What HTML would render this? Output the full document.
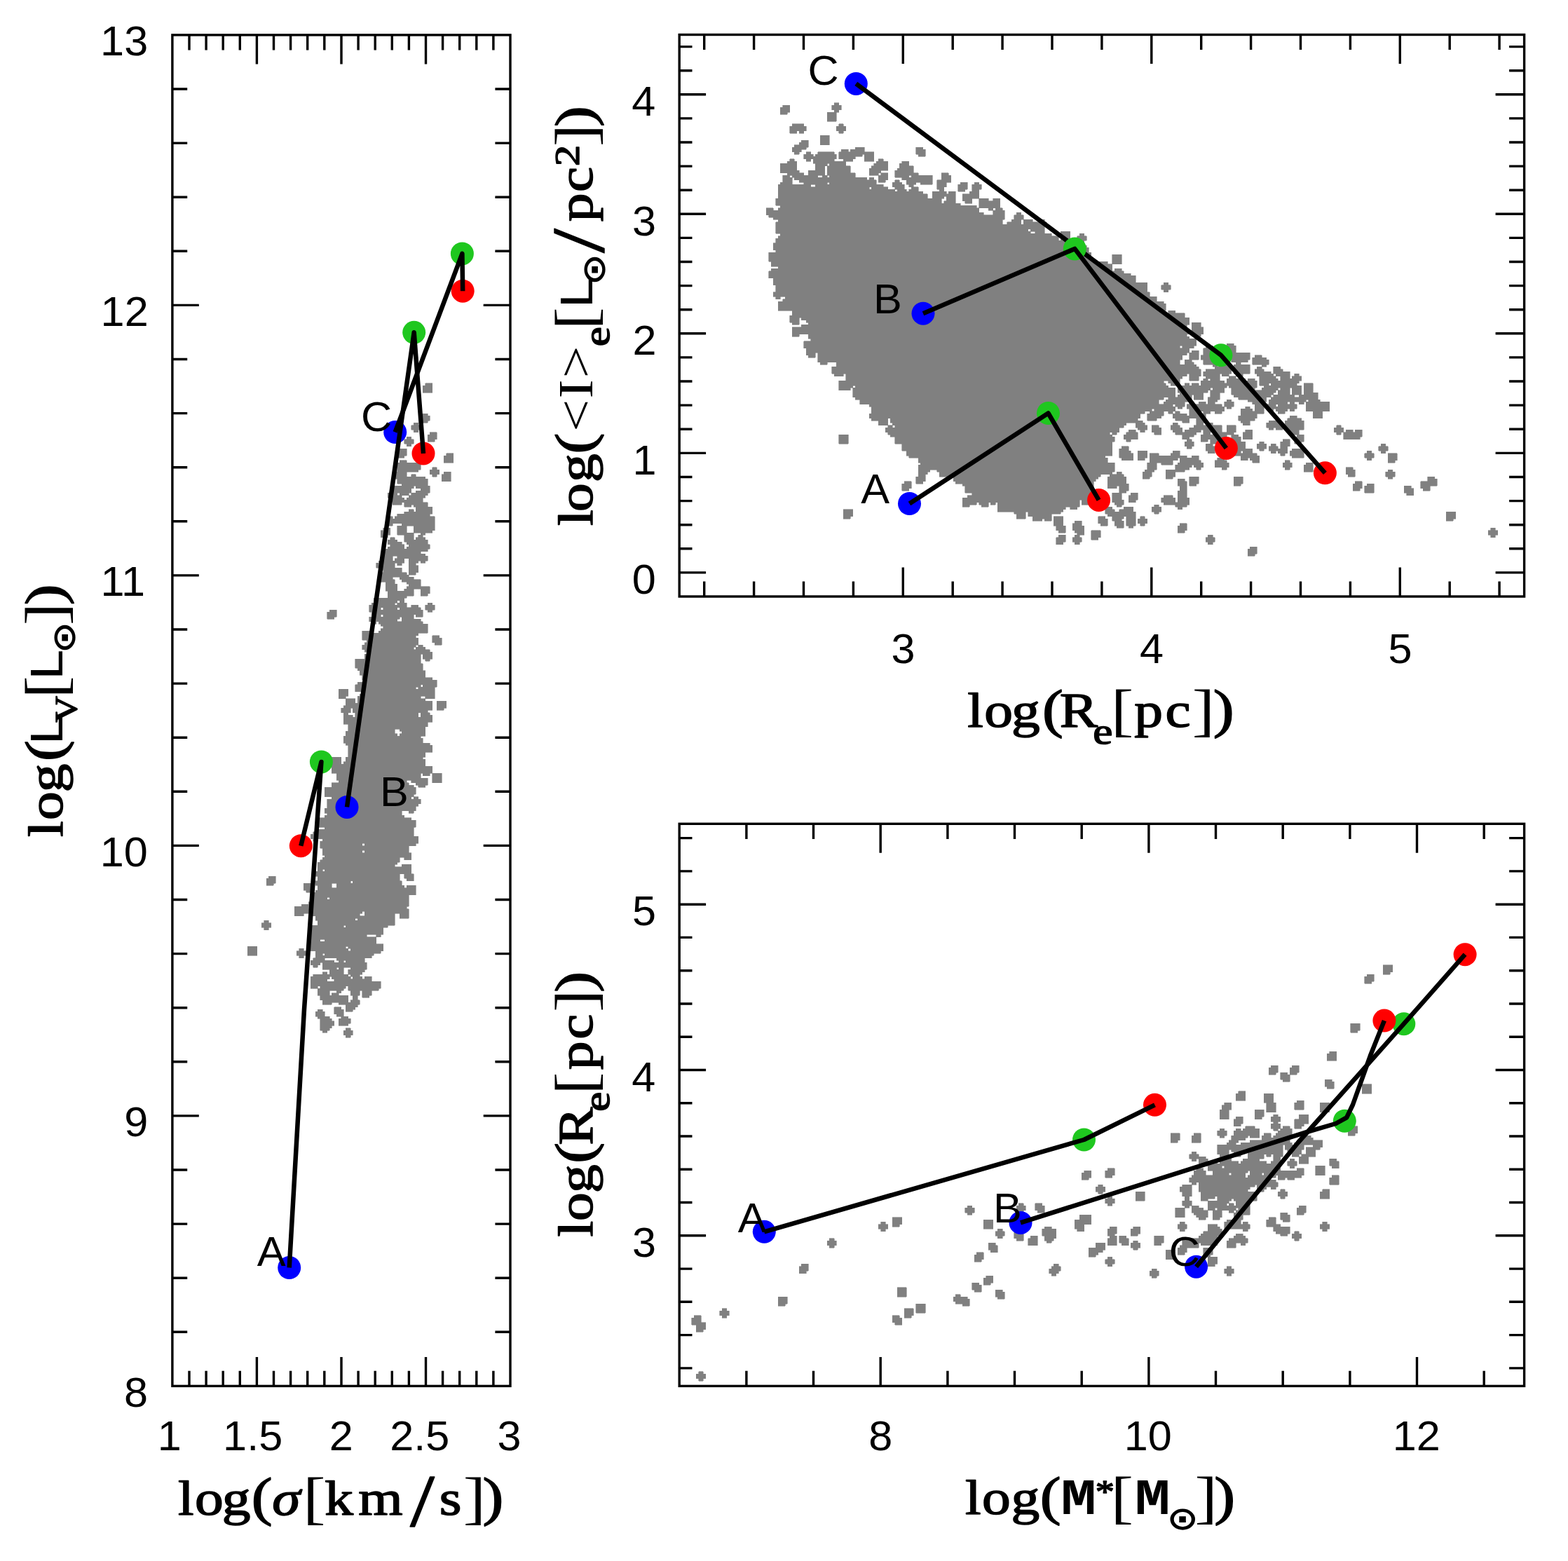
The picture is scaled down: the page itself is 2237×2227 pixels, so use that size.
<!DOCTYPE html>
<html lang="en">
<head>
<meta charset="utf-8">
<title>log(L) vs log(&#963;), log(&lt;I&gt;e) vs log(Re), log(Re) vs log(M*)</title>
<style>
html,body{margin:0;padding:0;background:#fff}
body{width:2237px;height:2227px;overflow:hidden}
svg{display:block}
text{fill:#000}
</style>
</head>
<body>
<svg width="2237" height="2227" viewBox="0 0 2237 2227">
<rect width="2237" height="2227" fill="#fff"/>
<path fill="#808080" stroke="#808080" stroke-width="0.6" shape-rendering="crispEdges" d="M1190.0 146.7h6.7v3.3h-6.7zM1116.7 150.0h10.0v3.3h-10.0zM1186.7 150.0h13.3v6.7h-13.3zM1113.3 153.3h13.3v6.7h-13.3zM1190.0 156.7h6.7v3.3h-6.7zM1113.3 160.0h10.0v3.3h-10.0zM1180.0 160.0h13.3v13.3h-13.3zM1196.7 176.7h6.7v3.3h-6.7zM1130.0 176.7h16.7v3.3h-16.7zM1193.3 180.0h13.3v6.7h-13.3zM1126.7 180.0h23.3v6.7h-23.3zM1126.7 186.7h10.0v3.3h-10.0zM1196.7 186.7h6.7v3.3h-6.7zM1140.0 186.7h6.7v3.3h-6.7zM1143.3 200.0h10.0v3.3h-10.0zM1170.0 193.3h13.3v13.3h-13.3zM1140.0 203.3h13.3v3.3h-13.3zM1133.3 206.7h20.0v3.3h-20.0zM1220.0 210.0h13.3v3.3h-13.3zM1306.7 210.0h10.0v3.3h-10.0zM1130.0 210.0h20.0v3.3h-20.0zM1213.3 213.3h20.0v3.3h-20.0zM1130.0 213.3h13.3v3.3h-13.3zM1200.0 213.3h10.0v3.3h-10.0zM1306.7 213.3h13.3v6.7h-13.3zM1166.7 216.7h23.3v3.3h-23.3zM1150.0 216.7h6.7v3.3h-6.7zM1196.7 216.7h50.0v3.3h-50.0zM1133.3 216.7h6.7v3.3h-6.7zM1310.0 220.0h10.0v3.3h-10.0zM1196.7 220.0h33.3v3.3h-33.3zM1163.3 220.0h30.0v3.3h-30.0zM1146.7 220.0h13.3v3.3h-13.3zM1146.7 223.3h46.7v3.3h-46.7zM1196.7 223.3h23.3v3.3h-23.3zM1233.3 220.0h13.3v10.0h-13.3zM1203.3 226.7h13.3v3.3h-13.3zM1150.0 226.7h6.7v3.3h-6.7zM1160.0 226.7h30.0v3.3h-30.0zM1253.3 226.7h6.7v3.3h-6.7zM1126.7 226.7h6.7v3.3h-6.7zM1250.0 230.0h16.7v3.3h-16.7zM1286.7 230.0h10.0v3.3h-10.0zM1160.0 230.0h46.7v3.3h-46.7zM1123.3 230.0h13.3v3.3h-13.3zM1246.7 233.3h20.0v3.3h-20.0zM1163.3 233.3h16.7v3.3h-16.7zM1283.3 233.3h13.3v3.3h-13.3zM1183.3 233.3h23.3v3.3h-23.3zM1283.3 236.7h20.0v3.3h-20.0zM1243.3 236.7h23.3v3.3h-23.3zM1113.3 233.3h23.3v10.0h-23.3zM1163.3 236.7h13.3v6.7h-13.3zM1280.0 240.0h23.3v3.3h-23.3zM1240.0 240.0h26.7v3.3h-26.7zM1180.0 236.7h33.3v10.0h-33.3zM1276.7 243.3h26.7v3.3h-26.7zM1113.3 243.3h26.7v3.3h-26.7zM1240.0 243.3h16.7v3.3h-16.7zM1153.3 243.3h23.3v6.7h-23.3zM1343.3 246.7h10.0v3.3h-10.0zM1240.0 246.7h13.3v3.3h-13.3zM1256.7 246.7h10.0v3.3h-10.0zM1123.3 246.7h23.3v3.3h-23.3zM1180.0 246.7h40.0v3.3h-40.0zM1276.7 246.7h33.3v3.3h-33.3zM1173.3 250.0h6.7v3.3h-6.7zM1300.0 250.0h30.0v3.3h-30.0zM1183.3 250.0h36.7v3.3h-36.7zM1276.7 250.0h20.0v3.3h-20.0zM1116.7 250.0h10.0v3.3h-10.0zM1130.0 250.0h36.7v3.3h-36.7zM1343.3 250.0h13.3v6.7h-13.3zM1253.3 250.0h13.3v6.7h-13.3zM1286.7 253.3h43.3v3.3h-43.3zM1133.3 253.3h103.3v3.3h-103.3zM1240.0 253.3h6.7v3.3h-6.7zM1116.7 253.3h13.3v6.7h-13.3zM1253.3 256.7h10.0v3.3h-10.0zM1276.7 256.7h6.7v3.3h-6.7zM1336.7 256.7h20.0v3.3h-20.0zM1140.0 256.7h110.0v3.3h-110.0zM1293.3 256.7h36.7v3.3h-36.7zM1293.3 260.0h13.3v3.3h-13.3zM1146.7 260.0h33.3v3.3h-33.3zM1313.3 260.0h16.7v3.3h-16.7zM1273.3 260.0h13.3v3.3h-13.3zM1183.3 260.0h66.7v3.3h-66.7zM1113.3 260.0h16.7v3.3h-16.7zM1370.0 260.0h10.0v3.3h-10.0zM1390.0 260.0h6.7v3.3h-6.7zM1336.7 260.0h13.3v6.7h-13.3zM1273.3 263.3h16.7v3.3h-16.7zM1110.0 263.3h46.7v3.3h-46.7zM1296.7 263.3h6.7v3.3h-6.7zM1163.3 263.3h96.7v3.3h-96.7zM1386.7 263.3h13.3v6.7h-13.3zM1366.7 263.3h13.3v6.7h-13.3zM1300.0 266.7h10.0v3.3h-10.0zM1243.3 266.7h23.3v3.3h-23.3zM1110.0 266.7h130.0v3.3h-130.0zM1336.7 266.7h10.0v3.3h-10.0zM1276.7 266.7h13.3v3.3h-13.3zM1296.7 270.0h13.3v3.3h-13.3zM1366.7 270.0h10.0v3.3h-10.0zM1280.0 270.0h13.3v3.3h-13.3zM1340.0 270.0h6.7v3.3h-6.7zM1386.7 270.0h10.0v3.3h-10.0zM1110.0 270.0h166.7v3.3h-166.7zM1383.3 273.3h13.3v3.3h-13.3zM1330.0 273.3h20.0v3.3h-20.0zM1110.0 273.3h206.7v3.3h-206.7zM1353.3 273.3h10.0v3.3h-10.0zM1330.0 276.7h33.3v3.3h-33.3zM1373.3 276.7h23.3v6.7h-23.3zM1110.0 276.7h213.3v6.7h-213.3zM1330.0 280.0h16.7v3.3h-16.7zM1350.0 280.0h13.3v6.7h-13.3zM1416.7 283.3h10.0v3.3h-10.0zM1396.7 283.3h13.3v3.3h-13.3zM1373.3 283.3h13.3v3.3h-13.3zM1106.7 283.3h236.7v6.7h-236.7zM1346.7 286.7h16.7v3.3h-16.7zM1376.7 286.7h10.0v3.3h-10.0zM1106.7 290.0h263.3v3.3h-263.3zM1396.7 286.7h30.0v10.0h-30.0zM1113.3 293.3h280.0v3.3h-280.0zM1110.0 296.7h286.7v3.3h-286.7zM1410.0 296.7h6.7v3.3h-6.7zM1093.3 296.7h10.0v3.3h-10.0zM1420.0 296.7h10.0v3.3h-10.0zM1093.3 300.0h303.3v3.3h-303.3zM1416.7 300.0h16.7v6.7h-16.7zM1093.3 303.3h310.0v3.3h-310.0zM1450.0 303.3h6.7v3.3h-6.7zM1096.7 306.7h336.7v3.3h-336.7zM1446.7 306.7h13.3v6.7h-13.3zM1103.3 310.0h330.0v3.3h-330.0zM1443.3 313.3h13.3v3.3h-13.3zM1483.3 313.3h6.7v3.3h-6.7zM1460.0 313.3h13.3v3.3h-13.3zM1110.0 313.3h320.0v3.3h-320.0zM1436.7 316.7h20.0v3.3h-20.0zM1106.7 316.7h323.3v3.3h-323.3zM1460.0 316.7h33.3v3.3h-33.3zM1106.7 320.0h386.7v3.3h-386.7zM1106.7 323.3h383.3v3.3h-383.3zM1106.7 326.7h360.0v3.3h-360.0zM1470.0 326.7h20.0v3.3h-20.0zM1106.7 330.0h363.3v3.3h-363.3zM1476.7 330.0h13.3v3.3h-13.3zM1540.0 333.3h6.7v3.3h-6.7zM1113.3 333.3h386.7v3.3h-386.7zM1513.3 330.0h13.3v10.0h-13.3zM1110.0 336.7h400.0v3.3h-400.0zM1536.7 336.7h13.3v6.7h-13.3zM1106.7 340.0h403.3v3.3h-403.3zM1513.3 340.0h16.7v3.3h-16.7zM1540.0 343.3h6.7v3.3h-6.7zM1106.7 343.3h423.3v3.3h-423.3zM1103.3 346.7h426.7v3.3h-426.7zM1103.3 350.0h446.7v3.3h-446.7zM1103.3 353.3h450.0v3.3h-450.0zM1106.7 356.7h446.7v3.3h-446.7zM1096.7 360.0h460.0v13.3h-460.0zM1586.7 363.3h13.3v13.3h-13.3zM1100.0 373.3h480.0v3.3h-480.0zM1100.0 376.7h486.7v3.3h-486.7zM1110.0 380.0h476.7v3.3h-476.7zM1100.0 383.3h486.7v3.3h-486.7zM1590.0 383.3h10.0v3.3h-10.0zM1096.7 386.7h506.7v3.3h-506.7zM1096.7 390.0h516.7v3.3h-516.7zM1096.7 393.3h523.3v3.3h-523.3zM1103.3 396.7h516.7v6.7h-516.7zM1660.0 403.3h6.7v3.3h-6.7zM1103.3 403.3h533.3v3.3h-533.3zM1656.7 406.7h13.3v6.7h-13.3zM1106.7 406.7h530.0v10.0h-530.0zM1660.0 413.3h6.7v3.3h-6.7zM1103.3 416.7h536.7v6.7h-536.7zM1106.7 423.3h6.7v3.3h-6.7zM1120.0 423.3h530.0v3.3h-530.0zM1116.7 426.7h533.3v3.3h-533.3zM1110.0 430.0h550.0v3.3h-550.0zM1110.0 433.3h553.3v10.0h-553.3zM1666.7 443.3h10.0v3.3h-10.0zM1130.0 443.3h526.7v3.3h-526.7zM1130.0 446.7h560.0v3.3h-560.0zM1126.7 450.0h563.3v3.3h-563.3zM1143.3 453.3h553.3v3.3h-553.3zM1126.7 453.3h13.3v6.7h-13.3zM1150.0 456.7h546.7v3.3h-546.7zM1130.0 460.0h10.0v3.3h-10.0zM1153.3 460.0h543.3v3.3h-543.3zM1700.0 460.0h13.3v6.7h-13.3zM1143.3 463.3h550.0v3.3h-550.0zM1130.0 466.7h563.3v3.3h-563.3zM1700.0 466.7h16.7v6.7h-16.7zM1130.0 470.0h566.7v6.7h-566.7zM1703.3 473.3h13.3v3.3h-13.3zM1130.0 476.7h10.0v3.3h-10.0zM1703.3 476.7h10.0v3.3h-10.0zM1153.3 476.7h540.0v3.3h-540.0zM1153.3 480.0h543.3v3.3h-543.3zM1156.7 483.3h550.0v3.3h-550.0zM1146.7 486.7h560.0v6.7h-560.0zM1750.0 490.0h10.0v3.3h-10.0zM1146.7 493.3h536.7v3.3h-536.7zM1720.0 493.3h10.0v3.3h-10.0zM1686.7 493.3h16.7v3.3h-16.7zM1750.0 493.3h13.3v6.7h-13.3zM1740.0 496.7h6.7v3.3h-6.7zM1150.0 496.7h546.7v6.7h-546.7zM1736.7 500.0h26.7v3.3h-26.7zM1700.0 500.0h10.0v3.3h-10.0zM1716.7 496.7h13.3v10.0h-13.3zM1166.7 503.3h526.7v3.3h-526.7zM1736.7 503.3h46.7v3.3h-46.7zM1150.0 503.3h13.3v3.3h-13.3zM1790.0 506.7h10.0v3.3h-10.0zM1740.0 506.7h6.7v3.3h-6.7zM1750.0 506.7h33.3v3.3h-33.3zM1713.3 506.7h16.7v3.3h-16.7zM1153.3 506.7h10.0v3.3h-10.0zM1696.7 503.3h13.3v10.0h-13.3zM1166.7 506.7h520.0v6.7h-520.0zM1756.7 510.0h26.7v3.3h-26.7zM1786.7 510.0h20.0v3.3h-20.0zM1713.3 510.0h23.3v3.3h-23.3zM1166.7 513.3h516.7v3.3h-516.7zM1716.7 513.3h23.3v3.3h-23.3zM1756.7 513.3h23.3v3.3h-23.3zM1743.3 513.3h10.0v3.3h-10.0zM1690.0 513.3h10.0v3.3h-10.0zM1786.7 513.3h23.3v6.7h-23.3zM1170.0 516.7h10.0v3.3h-10.0zM1763.3 516.7h6.7v3.3h-6.7zM1193.3 516.7h490.0v3.3h-490.0zM1690.0 516.7h13.3v3.3h-13.3zM1716.7 516.7h36.7v3.3h-36.7zM1193.3 520.0h513.3v3.3h-513.3zM1730.0 520.0h6.7v3.3h-6.7zM1740.0 520.0h13.3v3.3h-13.3zM1800.0 520.0h6.7v3.3h-6.7zM1186.7 523.3h523.3v3.3h-523.3zM1793.3 523.3h6.7v3.3h-6.7zM1733.3 523.3h23.3v3.3h-23.3zM1816.7 523.3h10.0v3.3h-10.0zM1720.0 526.7h36.7v3.3h-36.7zM1816.7 526.7h13.3v3.3h-13.3zM1790.0 526.7h13.3v3.3h-13.3zM1760.0 520.0h23.3v13.3h-23.3zM1186.7 526.7h526.7v6.7h-526.7zM1790.0 530.0h23.3v3.3h-23.3zM1816.7 530.0h23.3v3.3h-23.3zM1716.7 530.0h40.0v3.3h-40.0zM1763.3 533.3h10.0v3.3h-10.0zM1206.7 533.3h486.7v3.3h-486.7zM1696.7 533.3h16.7v3.3h-16.7zM1846.7 533.3h6.7v3.3h-6.7zM1716.7 533.3h23.3v3.3h-23.3zM1743.3 533.3h10.0v3.3h-10.0zM1820.0 533.3h20.0v3.3h-20.0zM1190.0 533.3h13.3v3.3h-13.3zM1793.3 533.3h23.3v3.3h-23.3zM1796.7 536.7h23.3v3.3h-23.3zM1826.7 536.7h13.3v3.3h-13.3zM1843.3 536.7h13.3v3.3h-13.3zM1753.3 536.7h10.0v3.3h-10.0zM1206.7 536.7h480.0v3.3h-480.0zM1720.0 536.7h20.0v3.3h-20.0zM1696.7 536.7h13.3v6.7h-13.3zM1206.7 540.0h476.7v3.3h-476.7zM1750.0 540.0h26.7v3.3h-26.7zM1780.0 540.0h10.0v3.3h-10.0zM1826.7 540.0h30.0v3.3h-30.0zM1726.7 540.0h13.3v3.3h-13.3zM1796.7 540.0h26.7v3.3h-26.7zM1716.7 540.0h6.7v3.3h-6.7zM1796.7 543.3h56.7v3.3h-56.7zM1713.3 543.3h33.3v3.3h-33.3zM1196.7 543.3h463.3v3.3h-463.3zM1666.7 543.3h16.7v3.3h-16.7zM1750.0 543.3h43.3v3.3h-43.3zM1690.0 546.7h6.7v3.3h-6.7zM1796.7 546.7h13.3v3.3h-13.3zM1713.3 546.7h80.0v3.3h-80.0zM1196.7 546.7h466.7v3.3h-466.7zM606.7 546.7h10.0v3.3h-10.0zM1700.0 546.7h10.0v3.3h-10.0zM1813.3 546.7h36.7v3.3h-36.7zM1670.0 546.7h10.0v3.3h-10.0zM1683.3 550.0h66.7v3.3h-66.7zM1220.0 550.0h446.7v3.3h-446.7zM1803.3 550.0h53.3v3.3h-53.3zM1196.7 550.0h20.0v3.3h-20.0zM1753.3 550.0h40.0v3.3h-40.0zM1680.0 553.3h46.7v3.3h-46.7zM1826.7 553.3h13.3v3.3h-13.3zM1800.0 553.3h23.3v3.3h-23.3zM1730.0 553.3h16.7v3.3h-16.7zM1756.7 553.3h33.3v3.3h-33.3zM1196.7 553.3h16.7v3.3h-16.7zM1860.0 546.7h13.3v13.3h-13.3zM603.3 550.0h13.3v10.0h-13.3zM1680.0 556.7h43.3v3.3h-43.3zM1790.0 556.7h30.0v3.3h-30.0zM1726.7 556.7h20.0v3.3h-20.0zM1843.3 553.3h13.3v10.0h-13.3zM1756.7 556.7h30.0v6.7h-30.0zM1823.3 556.7h16.7v6.7h-16.7zM1683.3 560.0h33.3v3.3h-33.3zM1790.0 560.0h26.7v3.3h-26.7zM1860.0 560.0h20.0v3.3h-20.0zM1216.7 553.3h460.0v13.3h-460.0zM1726.7 560.0h13.3v6.7h-13.3zM1816.7 563.3h30.0v3.3h-30.0zM1760.0 563.3h53.3v3.3h-53.3zM1853.3 563.3h26.7v3.3h-26.7zM1680.0 563.3h20.0v3.3h-20.0zM1703.3 563.3h13.3v6.7h-13.3zM1723.3 566.7h16.7v3.3h-16.7zM1220.0 566.7h440.0v3.3h-440.0zM1766.7 566.7h40.0v3.3h-40.0zM1666.7 566.7h33.3v3.3h-33.3zM1813.3 566.7h66.7v3.3h-66.7zM1750.0 570.0h6.7v3.3h-6.7zM1723.3 570.0h13.3v3.3h-13.3zM1810.0 570.0h53.3v3.3h-53.3zM1866.7 570.0h16.7v3.3h-16.7zM1780.0 570.0h26.7v3.3h-26.7zM1663.3 570.0h33.3v3.3h-33.3zM1226.7 570.0h426.7v6.7h-426.7zM1840.0 573.3h6.7v3.3h-6.7zM1696.7 573.3h6.7v3.3h-6.7zM1786.7 573.3h16.7v3.3h-16.7zM1853.3 573.3h6.7v3.3h-6.7zM1710.0 573.3h10.0v3.3h-10.0zM1723.3 573.3h10.0v3.3h-10.0zM1660.0 573.3h30.0v3.3h-30.0zM1810.0 573.3h26.7v3.3h-26.7zM1746.7 573.3h13.3v6.7h-13.3zM1240.0 576.7h433.3v3.3h-433.3zM1806.7 576.7h13.3v3.3h-13.3zM1823.3 576.7h26.7v3.3h-26.7zM1693.3 576.7h50.0v3.3h-50.0zM1676.7 576.7h13.3v3.3h-13.3zM1243.3 580.0h433.3v3.3h-433.3zM1750.0 580.0h6.7v3.3h-6.7zM1693.3 580.0h53.3v3.3h-53.3zM1806.7 580.0h43.3v3.3h-43.3zM1776.7 580.0h6.7v3.3h-6.7zM1680.0 580.0h6.7v3.3h-6.7zM1863.3 573.3h33.3v13.3h-33.3zM1790.0 576.7h13.3v10.0h-13.3zM1696.7 583.3h50.0v3.3h-50.0zM1840.0 583.3h6.7v3.3h-6.7zM1243.3 583.3h400.0v3.3h-400.0zM1770.0 583.3h16.7v3.3h-16.7zM1810.0 583.3h6.7v3.3h-6.7zM1646.7 583.3h30.0v3.3h-30.0zM1820.0 583.3h16.7v3.3h-16.7zM1823.3 586.7h10.0v3.3h-10.0zM1666.7 586.7h6.7v3.3h-6.7zM1640.0 586.7h20.0v3.3h-20.0zM1243.3 586.7h390.0v3.3h-390.0zM1716.7 586.7h10.0v3.3h-10.0zM1676.7 586.7h6.7v3.3h-6.7zM1733.3 586.7h10.0v3.3h-10.0zM1696.7 586.7h13.3v3.3h-13.3zM1770.0 586.7h33.3v3.3h-33.3zM1673.3 590.0h20.0v3.3h-20.0zM1636.7 590.0h23.3v3.3h-23.3zM603.3 590.0h6.7v3.3h-6.7zM1696.7 590.0h23.3v3.3h-23.3zM1770.0 590.0h23.3v3.3h-23.3zM1873.3 586.7h13.3v10.0h-13.3zM1240.0 590.0h386.7v6.7h-386.7zM1766.7 593.3h26.7v3.3h-26.7zM1636.7 593.3h20.0v3.3h-20.0zM1673.3 593.3h46.7v3.3h-46.7zM1840.0 593.3h10.0v3.3h-10.0zM600.0 593.3h13.3v6.7h-13.3zM1676.7 596.7h20.0v3.3h-20.0zM1766.7 596.7h23.3v3.3h-23.3zM1636.7 596.7h13.3v3.3h-13.3zM1243.3 596.7h23.3v3.3h-23.3zM1836.7 596.7h20.0v3.3h-20.0zM1270.0 596.7h353.3v3.3h-353.3zM1706.7 596.7h13.3v6.7h-13.3zM1270.0 600.0h360.0v3.3h-360.0zM1770.0 600.0h13.3v3.3h-13.3zM603.3 600.0h6.7v3.3h-6.7zM1810.0 600.0h16.7v3.3h-16.7zM1686.7 600.0h10.0v3.3h-10.0zM1253.3 600.0h13.3v6.7h-13.3zM1720.0 603.3h10.0v3.3h-10.0zM1706.7 603.3h10.0v3.3h-10.0zM1273.3 603.3h333.3v3.3h-333.3zM1673.3 603.3h6.7v3.3h-6.7zM590.0 603.3h6.7v3.3h-6.7zM1773.3 603.3h10.0v3.3h-10.0zM1620.0 603.3h13.3v3.3h-13.3zM1833.3 600.0h26.7v10.0h-26.7zM1806.7 603.3h23.3v6.7h-23.3zM1670.0 606.7h13.3v3.3h-13.3zM1266.7 606.7h6.7v3.3h-6.7zM1906.7 606.7h6.7v3.3h-6.7zM1703.3 606.7h40.0v3.3h-40.0zM1276.7 606.7h326.7v3.3h-326.7zM1620.0 606.7h16.7v3.3h-16.7zM1643.3 606.7h10.0v3.3h-10.0zM586.7 606.7h13.3v6.7h-13.3zM1670.0 610.0h16.7v3.3h-16.7zM1623.3 610.0h13.3v3.3h-13.3zM1836.7 610.0h23.3v3.3h-23.3zM1696.7 610.0h46.7v3.3h-46.7zM1820.0 610.0h10.0v3.3h-10.0zM1810.0 610.0h6.7v3.3h-6.7zM1750.0 606.7h13.3v10.0h-13.3zM1903.3 610.0h13.3v6.7h-13.3zM1263.3 610.0h333.3v6.7h-333.3zM1643.3 610.0h13.3v6.7h-13.3zM1610.0 613.3h10.0v3.3h-10.0zM1673.3 613.3h13.3v3.3h-13.3zM1920.0 613.3h10.0v3.3h-10.0zM1690.0 613.3h23.3v3.3h-23.3zM1776.7 613.3h10.0v3.3h-10.0zM590.0 613.3h6.7v3.3h-6.7zM1933.3 613.3h10.0v3.3h-10.0zM1716.7 613.3h26.7v3.3h-26.7zM1626.7 613.3h6.7v3.3h-6.7zM1840.0 613.3h13.3v6.7h-13.3zM1606.7 616.7h16.7v3.3h-16.7zM1730.0 616.7h30.0v3.3h-30.0zM1676.7 616.7h30.0v3.3h-30.0zM1716.7 616.7h10.0v3.3h-10.0zM1586.7 616.7h6.7v3.3h-6.7zM1266.7 616.7h316.7v3.3h-316.7zM1646.7 616.7h10.0v3.3h-10.0zM1906.7 616.7h6.7v3.3h-6.7zM613.3 616.7h10.0v3.3h-10.0zM1916.7 616.7h26.7v6.7h-26.7zM1270.0 620.0h316.7v3.3h-316.7zM1686.7 620.0h16.7v3.3h-16.7zM1756.7 620.0h10.0v3.3h-10.0zM1850.0 620.0h10.0v3.3h-10.0zM1773.3 616.7h13.3v10.0h-13.3zM1603.3 620.0h20.0v6.7h-20.0zM610.0 620.0h13.3v6.7h-13.3zM1713.3 620.0h36.7v6.7h-36.7zM1916.7 623.3h23.3v3.3h-23.3zM580.0 623.3h6.7v3.3h-6.7zM1686.7 623.3h10.0v3.3h-10.0zM1756.7 623.3h13.3v6.7h-13.3zM1276.7 623.3h313.3v6.7h-313.3zM1846.7 623.3h13.3v6.7h-13.3zM1606.7 626.7h6.7v3.3h-6.7zM1713.3 626.7h10.0v3.3h-10.0zM610.0 626.7h10.0v3.3h-10.0zM1830.0 626.7h10.0v3.3h-10.0zM1693.3 626.7h6.7v3.3h-6.7zM1726.7 626.7h20.0v3.3h-20.0zM1196.7 620.0h13.3v13.3h-13.3zM576.7 626.7h13.3v6.7h-13.3zM1276.7 630.0h310.0v3.3h-310.0zM1760.0 630.0h16.7v3.3h-16.7zM1726.7 630.0h13.3v3.3h-13.3zM1796.7 630.0h6.7v3.3h-6.7zM1846.7 630.0h10.0v3.3h-10.0zM1690.0 630.0h13.3v6.7h-13.3zM1826.7 630.0h13.3v6.7h-13.3zM1720.0 633.3h10.0v3.3h-10.0zM1970.0 633.3h6.7v3.3h-6.7zM1813.3 633.3h6.7v3.3h-6.7zM1763.3 633.3h13.3v3.3h-13.3zM580.0 633.3h6.7v3.3h-6.7zM1793.3 633.3h13.3v6.7h-13.3zM1810.0 636.7h13.3v3.3h-13.3zM1826.7 636.7h10.0v3.3h-10.0zM1600.0 636.7h10.0v3.3h-10.0zM1743.3 636.7h33.3v3.3h-33.3zM1693.3 636.7h6.7v3.3h-6.7zM1286.7 633.3h300.0v10.0h-300.0zM1720.0 636.7h13.3v6.7h-13.3zM1966.7 636.7h13.3v6.7h-13.3zM1596.7 640.0h13.3v3.3h-13.3zM570.0 640.0h10.0v3.3h-10.0zM1743.3 640.0h43.3v3.3h-43.3zM1796.7 640.0h6.7v3.3h-6.7zM1843.3 640.0h16.7v3.3h-16.7zM1810.0 640.0h26.7v3.3h-26.7zM1743.3 643.3h26.7v3.3h-26.7zM1970.0 643.3h6.7v3.3h-6.7zM1673.3 643.3h10.0v3.3h-10.0zM1950.0 643.3h6.7v3.3h-6.7zM1773.3 643.3h13.3v3.3h-13.3zM1813.3 643.3h6.7v3.3h-6.7zM1723.3 643.3h10.0v3.3h-10.0zM1823.3 643.3h13.3v3.3h-13.3zM1596.7 643.3h16.7v3.3h-16.7zM566.7 643.3h13.3v6.7h-13.3zM1293.3 643.3h293.3v6.7h-293.3zM1840.0 643.3h20.0v6.7h-20.0zM1670.0 646.7h13.3v3.3h-13.3zM1743.3 646.7h13.3v3.3h-13.3zM1826.7 646.7h6.7v3.3h-6.7zM1640.0 646.7h13.3v3.3h-13.3zM636.7 646.7h10.0v3.3h-10.0zM1760.0 646.7h33.3v3.3h-33.3zM1623.3 643.3h13.3v10.0h-13.3zM1946.7 646.7h13.3v6.7h-13.3zM1596.7 646.7h20.0v6.7h-20.0zM1296.7 650.0h280.0v3.3h-280.0zM1640.0 650.0h53.3v3.3h-53.3zM566.7 650.0h10.0v3.3h-10.0zM1770.0 650.0h26.7v3.3h-26.7zM1700.0 650.0h10.0v3.3h-10.0zM1843.3 650.0h16.7v3.3h-16.7zM1980.0 646.7h13.3v10.0h-13.3zM1770.0 653.3h10.0v3.3h-10.0zM1600.0 653.3h16.7v3.3h-16.7zM1736.7 653.3h10.0v3.3h-10.0zM1640.0 653.3h40.0v3.3h-40.0zM1783.3 653.3h13.3v3.3h-13.3zM1950.0 653.3h6.7v3.3h-6.7zM1683.3 653.3h26.7v3.3h-26.7zM1623.3 653.3h10.0v3.3h-10.0zM633.3 650.0h13.3v10.0h-13.3zM1310.0 653.3h270.0v6.7h-270.0zM1640.0 656.7h33.3v3.3h-33.3zM570.0 656.7h10.0v3.3h-10.0zM1683.3 656.7h30.0v3.3h-30.0zM1833.3 656.7h6.7v3.3h-6.7zM1980.0 656.7h10.0v3.3h-10.0zM1733.3 656.7h16.7v3.3h-16.7zM1786.7 656.7h10.0v3.3h-10.0zM1680.0 660.0h36.7v3.3h-36.7zM1656.7 660.0h16.7v3.3h-16.7zM1313.3 660.0h276.7v3.3h-276.7zM1863.3 660.0h10.0v3.3h-10.0zM1830.0 660.0h13.3v6.7h-13.3zM1733.3 660.0h20.0v6.7h-20.0zM1703.3 663.3h13.3v3.3h-13.3zM1676.7 663.3h23.3v3.3h-23.3zM566.7 660.0h33.3v10.0h-33.3zM1636.7 660.0h13.3v10.0h-13.3zM1310.0 663.3h280.0v6.7h-280.0zM1676.7 666.7h20.0v3.3h-20.0zM1743.3 666.7h6.7v3.3h-6.7zM1920.0 666.7h10.0v3.3h-10.0zM616.7 666.7h6.7v3.3h-6.7zM1706.7 666.7h6.7v3.3h-6.7zM1833.3 666.7h6.7v3.3h-6.7zM1860.0 663.3h13.3v10.0h-13.3zM1310.0 670.0h16.7v3.3h-16.7zM1663.3 670.0h26.7v3.3h-26.7zM566.7 670.0h30.0v3.3h-30.0zM1633.3 670.0h13.3v3.3h-13.3zM1336.7 670.0h253.3v3.3h-253.3zM1980.0 670.0h6.7v3.3h-6.7zM613.3 670.0h13.3v6.7h-13.3zM1920.0 670.0h13.3v6.7h-13.3zM1593.3 673.3h6.7v3.3h-6.7zM1340.0 673.3h246.7v3.3h-246.7zM633.3 673.3h10.0v3.3h-10.0zM1310.0 673.3h13.3v3.3h-13.3zM563.3 673.3h16.7v6.7h-16.7zM1976.7 673.3h13.3v6.7h-13.3zM1663.3 673.3h13.3v6.7h-13.3zM1630.0 673.3h13.3v6.7h-13.3zM1310.0 676.7h10.0v3.3h-10.0zM616.7 676.7h6.7v3.3h-6.7zM1583.3 676.7h20.0v3.3h-20.0zM1923.3 676.7h10.0v3.3h-10.0zM1340.0 676.7h16.7v3.3h-16.7zM586.7 676.7h6.7v3.3h-6.7zM1360.0 676.7h210.0v3.3h-210.0zM563.3 680.0h43.3v3.3h-43.3zM1360.0 680.0h206.7v3.3h-206.7zM1630.0 680.0h10.0v3.3h-10.0zM2036.7 680.0h10.0v3.3h-10.0zM1980.0 680.0h6.7v3.3h-6.7zM1663.3 680.0h10.0v3.3h-10.0zM630.0 676.7h13.3v10.0h-13.3zM1306.7 680.0h13.3v6.7h-13.3zM2036.7 683.3h13.3v3.3h-13.3zM1680.0 683.3h10.0v3.3h-10.0zM1360.0 683.3h203.3v3.3h-203.3zM1580.0 680.0h26.7v10.0h-26.7zM1696.7 680.0h13.3v10.0h-13.3zM1760.0 680.0h13.3v10.0h-13.3zM566.7 683.3h43.3v6.7h-43.3zM1290.0 686.7h10.0v3.3h-10.0zM1363.3 686.7h196.7v3.3h-196.7zM1306.7 686.7h10.0v3.3h-10.0zM1933.3 686.7h10.0v3.3h-10.0zM1680.0 686.7h13.3v6.7h-13.3zM2026.7 686.7h23.3v6.7h-23.3zM1580.0 690.0h30.0v3.3h-30.0zM1760.0 690.0h10.0v3.3h-10.0zM1950.0 690.0h10.0v3.3h-10.0zM573.3 690.0h36.7v3.3h-36.7zM1373.3 690.0h186.7v3.3h-186.7zM1696.7 690.0h10.0v3.3h-10.0zM1286.7 690.0h13.3v6.7h-13.3zM1930.0 690.0h13.3v6.7h-13.3zM2003.3 693.3h10.0v3.3h-10.0zM593.3 693.3h20.0v3.3h-20.0zM560.0 693.3h30.0v3.3h-30.0zM1580.0 693.3h13.3v3.3h-13.3zM2026.7 693.3h13.3v3.3h-13.3zM1596.7 693.3h13.3v6.7h-13.3zM1683.3 693.3h10.0v6.7h-10.0zM1376.7 693.3h183.3v6.7h-183.3zM2030.0 696.7h10.0v3.3h-10.0zM1286.7 696.7h10.0v3.3h-10.0zM1930.0 696.7h10.0v3.3h-10.0zM600.0 696.7h13.3v3.3h-13.3zM1946.7 693.3h13.3v10.0h-13.3zM556.7 696.7h30.0v6.7h-30.0zM2003.3 696.7h13.3v6.7h-13.3zM593.3 700.0h20.0v3.3h-20.0zM1596.7 700.0h10.0v3.3h-10.0zM1376.7 700.0h186.7v3.3h-186.7zM2006.7 703.3h10.0v3.3h-10.0zM586.7 703.3h23.3v3.3h-23.3zM1386.7 703.3h176.7v3.3h-176.7zM553.3 703.3h13.3v3.3h-13.3zM1613.3 703.3h10.0v3.3h-10.0zM570.0 703.3h13.3v3.3h-13.3zM1680.0 700.0h13.3v10.0h-13.3zM1380.0 706.7h183.3v3.3h-183.3zM1660.0 706.7h13.3v3.3h-13.3zM553.3 706.7h20.0v3.3h-20.0zM583.3 706.7h23.3v3.3h-23.3zM1586.7 703.3h13.3v10.0h-13.3zM1610.0 706.7h13.3v6.7h-13.3zM580.0 710.0h23.3v3.3h-23.3zM1373.3 710.0h190.0v3.3h-190.0zM556.7 710.0h20.0v3.3h-20.0zM1656.7 710.0h20.0v6.7h-20.0zM1680.0 710.0h16.7v6.7h-16.7zM1610.0 713.3h10.0v3.3h-10.0zM560.0 713.3h43.3v3.3h-43.3zM1586.7 713.3h16.7v3.3h-16.7zM1373.3 713.3h166.7v3.3h-166.7zM1543.3 713.3h13.3v6.7h-13.3zM560.0 716.7h13.3v3.3h-13.3zM1660.0 716.7h36.7v3.3h-36.7zM1373.3 716.7h20.0v3.3h-20.0zM576.7 716.7h33.3v3.3h-33.3zM1396.7 716.7h13.3v3.3h-13.3zM1413.3 716.7h6.7v3.3h-6.7zM1590.0 716.7h13.3v3.3h-13.3zM1423.3 716.7h116.7v6.7h-116.7zM1593.3 720.0h6.7v3.3h-6.7zM1373.3 720.0h10.0v3.3h-10.0zM590.0 720.0h20.0v3.3h-20.0zM1676.7 720.0h16.7v3.3h-16.7zM576.7 720.0h10.0v3.3h-10.0zM1400.0 720.0h10.0v3.3h-10.0zM1646.7 720.0h6.7v3.3h-6.7zM1526.7 723.3h10.0v3.3h-10.0zM1576.7 723.3h10.0v3.3h-10.0zM1603.3 723.3h13.3v3.3h-13.3zM1423.3 723.3h96.7v3.3h-96.7zM1680.0 723.3h6.7v3.3h-6.7zM1643.3 723.3h13.3v6.7h-13.3zM593.3 723.3h23.3v6.7h-23.3zM583.3 726.7h6.7v3.3h-6.7zM1596.7 726.7h20.0v3.3h-20.0zM1576.7 726.7h13.3v3.3h-13.3zM1423.3 726.7h93.3v3.3h-93.3zM1576.7 730.0h43.3v3.3h-43.3zM1466.7 730.0h46.7v3.3h-46.7zM1446.7 730.0h16.7v3.3h-16.7zM576.7 730.0h40.0v3.3h-40.0zM1646.7 730.0h6.7v3.3h-6.7zM1203.3 726.7h13.3v10.0h-13.3zM566.7 733.3h46.7v3.3h-46.7zM1580.0 733.3h40.0v3.3h-40.0zM1466.7 733.3h33.3v3.3h-33.3zM2063.3 730.0h13.3v10.0h-13.3zM1450.0 733.3h13.3v6.7h-13.3zM1473.3 736.7h26.7v3.3h-26.7zM553.3 736.7h6.7v3.3h-6.7zM1626.7 736.7h6.7v3.3h-6.7zM1203.3 736.7h10.0v3.3h-10.0zM1586.7 736.7h16.7v3.3h-16.7zM1566.7 736.7h10.0v3.3h-10.0zM563.3 736.7h56.7v3.3h-56.7zM2063.3 740.0h10.0v3.3h-10.0zM1490.0 740.0h10.0v3.3h-10.0zM1473.3 740.0h13.3v3.3h-13.3zM1586.7 740.0h13.3v3.3h-13.3zM1566.7 740.0h13.3v6.7h-13.3zM1623.3 740.0h13.3v6.7h-13.3zM550.0 740.0h70.0v6.7h-70.0zM1533.3 743.3h10.0v3.3h-10.0zM1606.7 736.7h13.3v13.3h-13.3zM1503.3 736.7h13.3v13.3h-13.3zM1590.0 743.3h13.3v6.7h-13.3zM1530.0 746.7h13.3v3.3h-13.3zM553.3 746.7h6.7v3.3h-6.7zM1683.3 746.7h10.0v3.3h-10.0zM573.3 746.7h46.7v3.3h-46.7zM1570.0 746.7h10.0v3.3h-10.0zM1626.7 746.7h6.7v3.3h-6.7zM1610.0 750.0h6.7v3.3h-6.7zM1593.3 750.0h10.0v3.3h-10.0zM1680.0 750.0h13.3v6.7h-13.3zM590.0 750.0h30.0v6.7h-30.0zM1506.7 750.0h13.3v6.7h-13.3zM1530.0 750.0h16.7v6.7h-16.7zM2126.7 753.3h6.7v3.3h-6.7zM546.7 753.3h10.0v3.3h-10.0zM566.7 750.0h13.3v10.0h-13.3zM1680.0 756.7h10.0v3.3h-10.0zM1510.0 756.7h10.0v3.3h-10.0zM590.0 756.7h26.7v3.3h-26.7zM1533.3 756.7h13.3v3.3h-13.3zM543.3 756.7h13.3v6.7h-13.3zM2123.3 756.7h13.3v6.7h-13.3zM1536.7 760.0h10.0v3.3h-10.0zM566.7 760.0h23.3v3.3h-23.3zM600.0 760.0h6.7v3.3h-6.7zM1556.7 756.7h13.3v10.0h-13.3zM2126.7 763.3h6.7v3.3h-6.7zM1723.3 763.3h6.7v3.3h-6.7zM1533.3 763.3h6.7v3.3h-6.7zM543.3 763.3h10.0v3.3h-10.0zM1510.0 763.3h10.0v3.3h-10.0zM596.7 763.3h6.7v3.3h-6.7zM576.7 763.3h13.3v6.7h-13.3zM1556.7 766.7h10.0v3.3h-10.0zM556.7 766.7h6.7v3.3h-6.7zM593.3 766.7h13.3v3.3h-13.3zM1530.0 766.7h13.3v6.7h-13.3zM1506.7 766.7h13.3v6.7h-13.3zM1720.0 766.7h13.3v6.7h-13.3zM576.7 770.0h33.3v3.3h-33.3zM553.3 770.0h13.3v3.3h-13.3zM1723.3 773.3h6.7v3.3h-6.7zM580.0 773.3h30.0v3.3h-30.0zM1533.3 773.3h6.7v3.3h-6.7zM1506.7 773.3h10.0v3.3h-10.0zM553.3 773.3h20.0v3.3h-20.0zM583.3 776.7h30.0v3.3h-30.0zM556.7 776.7h20.0v3.3h-20.0zM580.0 780.0h33.3v3.3h-33.3zM1783.3 780.0h10.0v3.3h-10.0zM553.3 780.0h23.3v3.3h-23.3zM550.0 783.3h60.0v3.3h-60.0zM1780.0 783.3h13.3v6.7h-13.3zM546.7 786.7h53.3v3.3h-53.3zM1780.0 790.0h10.0v3.3h-10.0zM546.7 790.0h60.0v3.3h-60.0zM566.7 793.3h43.3v3.3h-43.3zM543.3 793.3h16.7v6.7h-16.7zM563.3 796.7h13.3v3.3h-13.3zM583.3 796.7h26.7v3.3h-26.7zM583.3 800.0h13.3v3.3h-13.3zM540.0 800.0h36.7v3.3h-36.7zM600.0 800.0h6.7v3.3h-6.7zM566.7 803.3h6.7v3.3h-6.7zM583.3 803.3h10.0v3.3h-10.0zM536.7 803.3h26.7v6.7h-26.7zM540.0 810.0h33.3v3.3h-33.3zM583.3 806.7h13.3v10.0h-13.3zM546.7 813.3h26.7v3.3h-26.7zM583.3 816.7h10.0v3.3h-10.0zM543.3 816.7h36.7v3.3h-36.7zM540.0 820.0h43.3v3.3h-43.3zM540.0 823.3h20.0v3.3h-20.0zM570.0 823.3h20.0v3.3h-20.0zM543.3 826.7h20.0v3.3h-20.0zM573.3 826.7h26.7v3.3h-26.7zM550.0 830.0h13.3v3.3h-13.3zM580.0 830.0h20.0v3.3h-20.0zM583.3 833.3h16.7v3.3h-16.7zM580.0 836.7h33.3v3.3h-33.3zM550.0 833.3h16.7v10.0h-16.7zM576.7 840.0h13.3v3.3h-13.3zM600.0 840.0h13.3v6.7h-13.3zM553.3 843.3h36.7v6.7h-36.7zM600.0 846.7h10.0v3.3h-10.0zM553.3 850.0h26.7v3.3h-26.7zM533.3 853.3h43.3v3.3h-43.3zM570.0 856.7h6.7v3.3h-6.7zM533.3 856.7h33.3v3.3h-33.3zM610.0 860.0h6.7v3.3h-6.7zM566.7 860.0h13.3v3.3h-13.3zM530.0 860.0h33.3v3.3h-33.3zM526.7 863.3h53.3v3.3h-53.3zM586.7 863.3h10.0v3.3h-10.0zM606.7 863.3h13.3v6.7h-13.3zM526.7 866.7h16.7v3.3h-16.7zM546.7 866.7h20.0v3.3h-20.0zM570.0 866.7h30.0v3.3h-30.0zM610.0 870.0h6.7v3.3h-6.7zM470.0 870.0h10.0v3.3h-10.0zM526.7 870.0h76.7v3.3h-76.7zM530.0 873.3h73.3v3.3h-73.3zM466.7 873.3h13.3v6.7h-13.3zM530.0 876.7h13.3v3.3h-13.3zM546.7 876.7h43.3v3.3h-43.3zM593.3 876.7h10.0v3.3h-10.0zM573.3 880.0h16.7v3.3h-16.7zM526.7 880.0h43.3v3.3h-43.3zM466.7 880.0h10.0v3.3h-10.0zM573.3 883.3h26.7v3.3h-26.7zM526.7 883.3h40.0v3.3h-40.0zM530.0 886.7h6.7v3.3h-6.7zM540.0 886.7h63.3v3.3h-63.3zM543.3 890.0h66.7v3.3h-66.7zM546.7 893.3h63.3v3.3h-63.3zM543.3 896.7h66.7v3.3h-66.7zM540.0 900.0h70.0v3.3h-70.0zM516.7 900.0h13.3v3.3h-13.3zM516.7 903.3h80.0v3.3h-80.0zM616.7 906.7h10.0v3.3h-10.0zM516.7 906.7h76.7v3.3h-76.7zM516.7 910.0h80.0v3.3h-80.0zM616.7 910.0h13.3v6.7h-13.3zM523.3 913.3h73.3v3.3h-73.3zM520.0 916.7h76.7v3.3h-76.7zM620.0 916.7h10.0v3.3h-10.0zM596.7 920.0h6.7v3.3h-6.7zM516.7 920.0h76.7v3.3h-76.7zM516.7 923.3h73.3v3.3h-73.3zM593.3 923.3h13.3v3.3h-13.3zM520.0 926.7h93.3v3.3h-93.3zM526.7 930.0h90.0v3.3h-90.0zM520.0 933.3h80.0v6.7h-80.0zM603.3 933.3h13.3v6.7h-13.3zM606.7 940.0h6.7v3.3h-6.7zM506.7 940.0h93.3v6.7h-93.3zM506.7 946.7h96.7v6.7h-96.7zM510.0 953.3h93.3v3.3h-93.3zM513.3 956.7h93.3v6.7h-93.3zM516.7 963.3h90.0v3.3h-90.0zM516.7 966.7h100.0v3.3h-100.0zM520.0 970.0h103.3v3.3h-103.3zM510.0 973.3h113.3v3.3h-113.3zM603.3 976.7h20.0v3.3h-20.0zM506.7 976.7h93.3v3.3h-93.3zM506.7 980.0h86.7v3.3h-86.7zM596.7 980.0h23.3v3.3h-23.3zM506.7 983.3h113.3v3.3h-113.3zM516.7 986.7h103.3v3.3h-103.3zM483.3 983.3h13.3v10.0h-13.3zM513.3 990.0h106.7v3.3h-106.7zM510.0 993.3h90.0v3.3h-90.0zM483.3 993.3h10.0v3.3h-10.0zM606.7 993.3h13.3v3.3h-13.3zM510.0 996.7h96.7v3.3h-96.7zM493.3 996.7h13.3v6.7h-13.3zM510.0 1000.0h106.7v3.3h-106.7zM493.3 1003.3h123.3v3.3h-123.3zM623.3 1000.0h13.3v10.0h-13.3zM490.0 1006.7h126.7v3.3h-126.7zM503.3 1010.0h113.3v3.3h-113.3zM623.3 1010.0h10.0v3.3h-10.0zM486.7 1010.0h13.3v6.7h-13.3zM503.3 1013.3h106.7v3.3h-106.7zM490.0 1016.7h6.7v3.3h-6.7zM600.0 1016.7h13.3v3.3h-13.3zM506.7 1016.7h90.0v6.7h-90.0zM600.0 1020.0h16.7v3.3h-16.7zM490.0 1020.0h13.3v3.3h-13.3zM490.0 1023.3h126.7v6.7h-126.7zM490.0 1030.0h120.0v3.3h-120.0zM496.7 1033.3h113.3v3.3h-113.3zM496.7 1036.7h110.0v3.3h-110.0zM570.0 1040.0h36.7v3.3h-36.7zM496.7 1040.0h66.7v3.3h-66.7zM493.3 1043.3h70.0v3.3h-70.0zM573.3 1043.3h33.3v3.3h-33.3zM570.0 1046.7h36.7v3.3h-36.7zM493.3 1046.7h73.3v3.3h-73.3zM490.0 1050.0h110.0v3.3h-110.0zM490.0 1053.3h113.3v6.7h-113.3zM493.3 1060.0h120.0v3.3h-120.0zM496.7 1063.3h120.0v10.0h-120.0zM496.7 1073.3h110.0v6.7h-110.0zM493.3 1080.0h110.0v3.3h-110.0zM493.3 1083.3h113.3v3.3h-113.3zM473.3 1080.0h13.3v10.0h-13.3zM490.0 1086.7h116.7v3.3h-116.7zM473.3 1090.0h133.3v3.3h-133.3zM473.3 1093.3h143.3v10.0h-143.3zM603.3 1103.3h10.0v3.3h-10.0zM480.0 1103.3h120.0v6.7h-120.0zM480.0 1110.0h130.0v3.3h-130.0zM616.7 1103.3h13.3v13.3h-13.3zM483.3 1113.3h96.7v3.3h-96.7zM586.7 1113.3h23.3v3.3h-23.3zM473.3 1116.7h110.0v3.3h-110.0zM593.3 1116.7h16.7v3.3h-16.7zM596.7 1120.0h10.0v3.3h-10.0zM473.3 1120.0h116.7v3.3h-116.7zM463.3 1123.3h130.0v10.0h-130.0zM463.3 1133.3h126.7v3.3h-126.7zM473.3 1136.7h113.3v3.3h-113.3zM590.0 1136.7h6.7v3.3h-6.7zM466.7 1140.0h133.3v6.7h-133.3zM466.7 1146.7h130.0v3.3h-130.0zM466.7 1150.0h126.7v3.3h-126.7zM463.3 1153.3h130.0v3.3h-130.0zM463.3 1156.7h110.0v3.3h-110.0zM583.3 1156.7h6.7v3.3h-6.7zM466.7 1160.0h106.7v3.3h-106.7zM463.3 1163.3h113.3v3.3h-113.3zM453.3 1166.7h133.3v3.3h-133.3zM453.3 1170.0h140.0v10.0h-140.0zM463.3 1180.0h126.7v3.3h-126.7zM453.3 1183.3h136.7v3.3h-136.7zM446.7 1186.7h143.3v3.3h-143.3zM443.3 1190.0h146.7v3.3h-146.7zM443.3 1193.3h153.3v3.3h-153.3zM460.0 1196.7h136.7v3.3h-136.7zM446.7 1196.7h6.7v3.3h-6.7zM456.7 1200.0h140.0v3.3h-140.0zM520.0 1203.3h73.3v3.3h-73.3zM456.7 1203.3h60.0v3.3h-60.0zM456.7 1206.7h126.7v3.3h-126.7zM460.0 1210.0h123.3v3.3h-123.3zM520.0 1213.3h63.3v3.3h-63.3zM460.0 1213.3h56.7v3.3h-56.7zM460.0 1216.7h126.7v3.3h-126.7zM463.3 1220.0h123.3v3.3h-123.3zM460.0 1223.3h110.0v3.3h-110.0zM576.7 1223.3h10.0v3.3h-10.0zM456.7 1226.7h113.3v3.3h-113.3zM453.3 1230.0h113.3v3.3h-113.3zM573.3 1233.3h13.3v3.3h-13.3zM453.3 1233.3h110.0v3.3h-110.0zM453.3 1236.7h133.3v3.3h-133.3zM463.3 1240.0h123.3v3.3h-123.3zM453.3 1240.0h6.7v3.3h-6.7zM450.0 1243.3h136.7v3.3h-136.7zM450.0 1246.7h120.0v3.3h-120.0zM576.7 1246.7h13.3v6.7h-13.3zM383.3 1250.0h10.0v3.3h-10.0zM453.3 1250.0h116.7v6.7h-116.7zM580.0 1253.3h10.0v3.3h-10.0zM380.0 1253.3h13.3v6.7h-13.3zM450.0 1256.7h50.0v3.3h-50.0zM503.3 1256.7h70.0v3.3h-70.0zM433.3 1260.0h10.0v3.3h-10.0zM380.0 1260.0h10.0v3.3h-10.0zM450.0 1260.0h23.3v3.3h-23.3zM480.0 1260.0h93.3v3.3h-93.3zM453.3 1263.3h20.0v3.3h-20.0zM480.0 1263.3h96.7v3.3h-96.7zM580.0 1263.3h13.3v3.3h-13.3zM433.3 1263.3h13.3v6.7h-13.3zM453.3 1266.7h140.0v3.3h-140.0zM450.0 1270.0h143.3v3.3h-143.3zM436.7 1270.0h10.0v3.3h-10.0zM446.7 1273.3h146.7v3.3h-146.7zM443.3 1276.7h140.0v3.3h-140.0zM443.3 1280.0h23.3v3.3h-23.3zM470.0 1280.0h113.3v3.3h-113.3zM446.7 1283.3h136.7v3.3h-136.7zM440.0 1286.7h143.3v3.3h-143.3zM430.0 1290.0h153.3v3.3h-153.3zM420.0 1293.3h160.0v3.3h-160.0zM420.0 1296.7h163.3v3.3h-163.3zM520.0 1300.0h63.3v3.3h-63.3zM443.3 1300.0h73.3v3.3h-73.3zM420.0 1300.0h20.0v3.3h-20.0zM420.0 1303.3h13.3v3.3h-13.3zM520.0 1303.3h43.3v3.3h-43.3zM443.3 1303.3h70.0v3.3h-70.0zM570.0 1303.3h13.3v6.7h-13.3zM450.0 1306.7h113.3v3.3h-113.3zM510.0 1310.0h53.3v3.3h-53.3zM450.0 1310.0h56.7v3.3h-56.7zM376.7 1313.3h6.7v3.3h-6.7zM453.3 1313.3h110.0v6.7h-110.0zM373.3 1316.7h13.3v6.7h-13.3zM440.0 1320.0h50.0v3.3h-50.0zM493.3 1320.0h60.0v3.3h-60.0zM376.7 1323.3h6.7v3.3h-6.7zM440.0 1323.3h106.7v10.0h-106.7zM536.7 1333.3h6.7v3.3h-6.7zM440.0 1333.3h83.3v3.3h-83.3zM440.0 1336.7h96.7v3.3h-96.7zM443.3 1340.0h13.3v3.3h-13.3zM463.3 1340.0h73.3v3.3h-73.3zM443.3 1343.3h93.3v3.3h-93.3zM440.0 1346.7h106.7v3.3h-106.7zM440.0 1350.0h53.3v3.3h-53.3zM496.7 1350.0h50.0v3.3h-50.0zM426.7 1353.3h6.7v3.3h-6.7zM443.3 1353.3h53.3v3.3h-53.3zM500.0 1353.3h46.7v3.3h-46.7zM450.0 1356.7h93.3v3.3h-93.3zM353.3 1350.0h13.3v13.3h-13.3zM423.3 1356.7h13.3v6.7h-13.3zM450.0 1360.0h10.0v3.3h-10.0zM463.3 1360.0h70.0v3.3h-70.0zM426.7 1363.3h6.7v3.3h-6.7zM450.0 1363.3h80.0v3.3h-80.0zM446.7 1366.7h16.7v3.3h-16.7zM480.0 1366.7h40.0v3.3h-40.0zM443.3 1370.0h33.3v3.3h-33.3zM483.3 1370.0h6.7v3.3h-6.7zM493.3 1370.0h26.7v3.3h-26.7zM443.3 1373.3h13.3v3.3h-13.3zM460.0 1373.3h63.3v6.7h-63.3zM446.7 1376.7h6.7v3.3h-6.7zM500.0 1380.0h23.3v3.3h-23.3zM460.0 1380.0h20.0v3.3h-20.0zM483.3 1380.0h6.7v3.3h-6.7zM1973.3 1376.7h13.3v10.0h-13.3zM496.7 1383.3h23.3v3.3h-23.3zM470.0 1383.3h20.0v6.7h-20.0zM496.7 1386.7h20.0v3.3h-20.0zM460.0 1386.7h6.7v3.3h-6.7zM1973.3 1386.7h10.0v3.3h-10.0zM500.0 1390.0h13.3v3.3h-13.3zM446.7 1390.0h50.0v3.3h-50.0zM1950.0 1390.0h10.0v3.3h-10.0zM503.3 1393.3h13.3v3.3h-13.3zM473.3 1393.3h26.7v3.3h-26.7zM443.3 1393.3h26.7v3.3h-26.7zM520.0 1393.3h10.0v3.3h-10.0zM1946.7 1393.3h13.3v6.7h-13.3zM476.7 1396.7h53.3v3.3h-53.3zM443.3 1396.7h23.3v3.3h-23.3zM1946.7 1400.0h10.0v3.3h-10.0zM443.3 1400.0h100.0v6.7h-100.0zM443.3 1406.7h10.0v3.3h-10.0zM496.7 1406.7h46.7v3.3h-46.7zM456.7 1406.7h36.7v3.3h-36.7zM453.3 1410.0h36.7v3.3h-36.7zM496.7 1410.0h43.3v3.3h-43.3zM480.0 1413.3h6.7v3.3h-6.7zM516.7 1413.3h13.3v6.7h-13.3zM500.0 1413.3h13.3v6.7h-13.3zM453.3 1413.3h16.7v6.7h-16.7zM473.3 1416.7h10.0v3.3h-10.0zM516.7 1420.0h10.0v3.3h-10.0zM503.3 1420.0h6.7v6.7h-6.7zM456.7 1420.0h40.0v6.7h-40.0zM460.0 1426.7h36.7v3.3h-36.7zM500.0 1426.7h13.3v3.3h-13.3zM483.3 1430.0h30.0v3.3h-30.0zM460.0 1430.0h13.3v3.3h-13.3zM493.3 1433.3h16.7v3.3h-16.7zM476.7 1436.7h10.0v3.3h-10.0zM493.3 1436.7h13.3v3.3h-13.3zM493.3 1440.0h10.0v3.3h-10.0zM453.3 1440.0h6.7v3.3h-6.7zM476.7 1440.0h13.3v6.7h-13.3zM450.0 1443.3h13.3v6.7h-13.3zM480.0 1446.7h10.0v3.3h-10.0zM486.7 1450.0h10.0v3.3h-10.0zM453.3 1450.0h16.7v3.3h-16.7zM456.7 1453.3h16.7v3.3h-16.7zM483.3 1453.3h16.7v6.7h-16.7zM456.7 1456.7h20.0v6.7h-20.0zM483.3 1460.0h13.3v3.3h-13.3zM456.7 1463.3h16.7v3.3h-16.7zM1926.7 1460.0h13.3v10.0h-13.3zM456.7 1466.7h13.3v3.3h-13.3zM493.3 1466.7h6.7v3.3h-6.7zM460.0 1470.0h6.7v3.3h-6.7zM1926.7 1470.0h10.0v3.3h-10.0zM490.0 1470.0h13.3v6.7h-13.3zM493.3 1476.7h6.7v3.3h-6.7zM1896.7 1500.0h10.0v3.3h-10.0zM1893.3 1503.3h13.3v10.0h-13.3zM1843.3 1520.0h10.0v3.3h-10.0zM1813.3 1520.0h10.0v3.3h-10.0zM1810.0 1523.3h13.3v6.7h-13.3zM1840.0 1523.3h13.3v6.7h-13.3zM1826.7 1530.0h10.0v3.3h-10.0zM1840.0 1530.0h10.0v3.3h-10.0zM1810.0 1530.0h10.0v3.3h-10.0zM1826.7 1533.3h13.3v6.7h-13.3zM1890.0 1540.0h10.0v3.3h-10.0zM1830.0 1540.0h10.0v3.3h-10.0zM1890.0 1543.3h13.3v6.7h-13.3zM1893.3 1550.0h10.0v3.3h-10.0zM1943.3 1546.7h13.3v13.3h-13.3zM1766.7 1556.7h10.0v3.3h-10.0zM1763.3 1560.0h13.3v10.0h-13.3zM1803.3 1560.0h13.3v13.3h-13.3zM1850.0 1570.0h10.0v3.3h-10.0zM1746.7 1573.3h10.0v3.3h-10.0zM1846.7 1573.3h13.3v10.0h-13.3zM1743.3 1576.7h13.3v6.7h-13.3zM1806.7 1573.3h13.3v13.3h-13.3zM1883.3 1573.3h13.3v13.3h-13.3zM1790.0 1583.3h13.3v10.0h-13.3zM1816.7 1590.0h6.7v3.3h-6.7zM1740.0 1583.3h13.3v13.3h-13.3zM1853.3 1590.0h13.3v6.7h-13.3zM1763.3 1593.3h10.0v3.3h-10.0zM1790.0 1593.3h10.0v3.3h-10.0zM1813.3 1593.3h13.3v6.7h-13.3zM1846.7 1596.7h20.0v6.7h-20.0zM1760.0 1596.7h13.3v6.7h-13.3zM1816.7 1600.0h6.7v3.3h-6.7zM1846.7 1603.3h13.3v3.3h-13.3zM1760.0 1603.3h10.0v3.3h-10.0zM1813.3 1603.3h13.3v6.7h-13.3zM1776.7 1606.7h13.3v3.3h-13.3zM1830.0 1606.7h10.0v3.3h-10.0zM1926.7 1606.7h10.0v3.3h-10.0zM1846.7 1606.7h10.0v3.3h-10.0zM1816.7 1610.0h6.7v3.3h-6.7zM1763.3 1610.0h6.7v3.3h-6.7zM1740.0 1610.0h6.7v3.3h-6.7zM1773.3 1610.0h23.3v3.3h-23.3zM1826.7 1610.0h16.7v3.3h-16.7zM1923.3 1610.0h13.3v6.7h-13.3zM1823.3 1613.3h20.0v3.3h-20.0zM1736.7 1613.3h13.3v6.7h-13.3zM1760.0 1613.3h36.7v6.7h-36.7zM1803.3 1616.7h10.0v3.3h-10.0zM1703.3 1616.7h10.0v3.3h-10.0zM1820.0 1616.7h23.3v3.3h-23.3zM1923.3 1616.7h10.0v3.3h-10.0zM1800.0 1620.0h13.3v3.3h-13.3zM1740.0 1620.0h6.7v3.3h-6.7zM1783.3 1620.0h13.3v3.3h-13.3zM1816.7 1620.0h26.7v3.3h-26.7zM1860.0 1620.0h10.0v3.3h-10.0zM1756.7 1620.0h23.3v3.3h-23.3zM1670.0 1616.7h13.3v10.0h-13.3zM1856.7 1623.3h16.7v3.3h-16.7zM1800.0 1623.3h40.0v3.3h-40.0zM1756.7 1623.3h20.0v3.3h-20.0zM1700.0 1620.0h13.3v10.0h-13.3zM1850.0 1626.7h36.7v3.3h-36.7zM1783.3 1626.7h56.7v3.3h-56.7zM1753.3 1626.7h13.3v3.3h-13.3zM1670.0 1626.7h10.0v3.3h-10.0zM1750.0 1630.0h13.3v3.3h-13.3zM1846.7 1630.0h40.0v3.3h-40.0zM1770.0 1630.0h73.3v3.3h-73.3zM1736.7 1633.3h93.3v3.3h-93.3zM1873.3 1633.3h13.3v3.3h-13.3zM1833.3 1633.3h26.7v6.7h-26.7zM1796.7 1636.7h33.3v3.3h-33.3zM1863.3 1636.7h20.0v3.3h-20.0zM1736.7 1636.7h56.7v3.3h-56.7zM1836.7 1640.0h20.0v3.3h-20.0zM1756.7 1640.0h20.0v3.3h-20.0zM1863.3 1640.0h13.3v6.7h-13.3zM1780.0 1640.0h50.0v6.7h-50.0zM1736.7 1640.0h16.7v6.7h-16.7zM1843.3 1643.3h13.3v3.3h-13.3zM1700.0 1643.3h6.7v3.3h-6.7zM1760.0 1643.3h13.3v3.3h-13.3zM1806.7 1646.7h6.7v3.3h-6.7zM1763.3 1646.7h6.7v3.3h-6.7zM1856.7 1646.7h20.0v3.3h-20.0zM1816.7 1646.7h13.3v3.3h-13.3zM1843.3 1646.7h10.0v3.3h-10.0zM1696.7 1646.7h13.3v3.3h-13.3zM1740.0 1646.7h13.3v3.3h-13.3zM1780.0 1646.7h23.3v6.7h-23.3zM1696.7 1650.0h23.3v3.3h-23.3zM1740.0 1650.0h16.7v6.7h-16.7zM1816.7 1650.0h10.0v6.7h-10.0zM1840.0 1653.3h6.7v3.3h-6.7zM1896.7 1653.3h10.0v3.3h-10.0zM1773.3 1653.3h23.3v3.3h-23.3zM1700.0 1653.3h6.7v3.3h-6.7zM1853.3 1650.0h13.3v10.0h-13.3zM1710.0 1653.3h13.3v6.7h-13.3zM1770.0 1656.7h36.7v3.3h-36.7zM1740.0 1656.7h26.7v3.3h-26.7zM1726.7 1656.7h10.0v3.3h-10.0zM1813.3 1656.7h13.3v3.3h-13.3zM1896.7 1656.7h13.3v6.7h-13.3zM1836.7 1656.7h13.3v6.7h-13.3zM1713.3 1660.0h113.3v3.3h-113.3zM1746.7 1663.3h80.0v3.3h-80.0zM1840.0 1663.3h6.7v3.3h-6.7zM1723.3 1663.3h20.0v3.3h-20.0zM1900.0 1663.3h10.0v3.3h-10.0zM1580.0 1666.7h10.0v3.3h-10.0zM1706.7 1666.7h10.0v3.3h-10.0zM1850.0 1666.7h10.0v3.3h-10.0zM1723.3 1666.7h103.3v3.3h-103.3zM1730.0 1670.0h50.0v3.3h-50.0zM1783.3 1670.0h76.7v3.3h-76.7zM1546.7 1670.0h10.0v3.3h-10.0zM1876.7 1663.3h13.3v13.3h-13.3zM1703.3 1670.0h16.7v6.7h-16.7zM1576.7 1670.0h13.3v6.7h-13.3zM1783.3 1673.3h16.7v3.3h-16.7zM1803.3 1673.3h56.7v3.3h-56.7zM1730.0 1673.3h23.3v3.3h-23.3zM1756.7 1673.3h20.0v3.3h-20.0zM1543.3 1673.3h13.3v6.7h-13.3zM1576.7 1676.7h10.0v3.3h-10.0zM1700.0 1676.7h76.7v3.3h-76.7zM1780.0 1676.7h40.0v3.3h-40.0zM1823.3 1676.7h33.3v3.3h-33.3zM1900.0 1676.7h10.0v3.3h-10.0zM1696.7 1680.0h116.7v3.3h-116.7zM1823.3 1680.0h10.0v3.3h-10.0zM1543.3 1680.0h10.0v3.3h-10.0zM1836.7 1680.0h10.0v3.3h-10.0zM1696.7 1683.3h123.3v3.3h-123.3zM1896.7 1680.0h13.3v10.0h-13.3zM1710.0 1686.7h113.3v3.3h-113.3zM1700.0 1686.7h6.7v3.3h-6.7zM1686.7 1690.0h13.3v3.3h-13.3zM1710.0 1690.0h80.0v3.3h-80.0zM1566.7 1690.0h6.7v3.3h-6.7zM1793.3 1690.0h30.0v3.3h-30.0zM1813.3 1693.3h6.7v3.3h-6.7zM1793.3 1693.3h13.3v3.3h-13.3zM1710.0 1693.3h73.3v3.3h-73.3zM1563.3 1693.3h13.3v6.7h-13.3zM1683.3 1693.3h16.7v6.7h-16.7zM1886.7 1696.7h10.0v3.3h-10.0zM1826.7 1696.7h6.7v3.3h-6.7zM1796.7 1696.7h6.7v3.3h-6.7zM1710.0 1696.7h70.0v3.3h-70.0zM1566.7 1700.0h6.7v3.3h-6.7zM1686.7 1700.0h13.3v6.7h-13.3zM1713.3 1700.0h80.0v6.7h-80.0zM1823.3 1700.0h13.3v6.7h-13.3zM1883.3 1700.0h13.3v10.0h-13.3zM1580.0 1706.7h6.7v3.3h-6.7zM1713.3 1706.7h20.0v3.3h-20.0zM1826.7 1706.7h6.7v3.3h-6.7zM1736.7 1706.7h56.7v3.3h-56.7zM1620.0 1700.0h13.3v13.3h-13.3zM1690.0 1706.7h6.7v6.7h-6.7zM1713.3 1710.0h10.0v3.3h-10.0zM1736.7 1710.0h20.0v3.3h-20.0zM1760.0 1710.0h33.3v3.3h-33.3zM1576.7 1710.0h13.3v6.7h-13.3zM1723.3 1713.3h30.0v3.3h-30.0zM1763.3 1713.3h16.7v3.3h-16.7zM1686.7 1713.3h13.3v6.7h-13.3zM1723.3 1716.7h26.7v3.3h-26.7zM1580.0 1716.7h6.7v3.3h-6.7zM1453.3 1716.7h6.7v3.3h-6.7zM1476.7 1716.7h10.0v3.3h-10.0zM1753.3 1716.7h6.7v3.3h-6.7zM1763.3 1716.7h20.0v3.3h-20.0zM1690.0 1720.0h6.7v3.3h-6.7zM1853.3 1720.0h10.0v3.3h-10.0zM1380.0 1720.0h6.7v3.3h-6.7zM1700.0 1720.0h10.0v3.3h-10.0zM1723.3 1720.0h60.0v3.3h-60.0zM1476.7 1720.0h13.3v6.7h-13.3zM1450.0 1720.0h13.3v6.7h-13.3zM1700.0 1723.3h16.7v3.3h-16.7zM1766.7 1723.3h16.7v3.3h-16.7zM1723.3 1723.3h10.0v3.3h-10.0zM1736.7 1723.3h26.7v3.3h-26.7zM1850.0 1723.3h13.3v6.7h-13.3zM1376.7 1723.3h13.3v6.7h-13.3zM1453.3 1726.7h6.7v3.3h-6.7zM1700.0 1726.7h23.3v3.3h-23.3zM1480.0 1726.7h10.0v3.3h-10.0zM1753.3 1726.7h6.7v3.3h-6.7zM1763.3 1726.7h20.0v3.3h-20.0zM1826.7 1730.0h10.0v3.3h-10.0zM1703.3 1730.0h20.0v3.3h-20.0zM1380.0 1730.0h6.7v3.3h-6.7zM1850.0 1730.0h10.0v3.3h-10.0zM1760.0 1730.0h23.3v3.3h-23.3zM1676.7 1723.3h13.3v13.3h-13.3zM1730.0 1726.7h13.3v10.0h-13.3zM1706.7 1733.3h16.7v3.3h-16.7zM1540.0 1733.3h16.7v6.7h-16.7zM1826.7 1733.3h13.3v6.7h-13.3zM1760.0 1733.3h13.3v6.7h-13.3zM1730.0 1736.7h10.0v3.3h-10.0zM1810.0 1736.7h10.0v3.3h-10.0zM1710.0 1736.7h10.0v3.3h-10.0zM1830.0 1740.0h10.0v3.3h-10.0zM1750.0 1740.0h20.0v3.3h-20.0zM1273.3 1736.7h13.3v10.0h-13.3zM1806.7 1740.0h13.3v6.7h-13.3zM1533.3 1740.0h23.3v6.7h-23.3zM1773.3 1743.3h6.7v3.3h-6.7zM1746.7 1743.3h23.3v3.3h-23.3zM1683.3 1743.3h6.7v3.3h-6.7zM1886.7 1743.3h6.7v3.3h-6.7zM1256.7 1743.3h6.7v3.3h-6.7zM1723.3 1746.7h13.3v3.3h-13.3zM1273.3 1746.7h10.0v3.3h-10.0zM1806.7 1746.7h20.0v3.3h-20.0zM1403.3 1740.0h13.3v13.3h-13.3zM1746.7 1746.7h36.7v6.7h-36.7zM1680.0 1746.7h13.3v6.7h-13.3zM1883.3 1746.7h13.3v6.7h-13.3zM1533.3 1746.7h13.3v6.7h-13.3zM1253.3 1746.7h13.3v6.7h-13.3zM1723.3 1750.0h16.7v3.3h-16.7zM1490.0 1750.0h10.0v3.3h-10.0zM1616.7 1750.0h10.0v3.3h-10.0zM1583.3 1750.0h10.0v3.3h-10.0zM1816.7 1750.0h23.3v6.7h-23.3zM1536.7 1753.3h10.0v3.3h-10.0zM1423.3 1753.3h6.7v3.3h-6.7zM1773.3 1753.3h6.7v3.3h-6.7zM1683.3 1753.3h6.7v3.3h-6.7zM1723.3 1753.3h20.0v3.3h-20.0zM1886.7 1753.3h6.7v3.3h-6.7zM1256.7 1753.3h6.7v3.3h-6.7zM1613.3 1753.3h13.3v6.7h-13.3zM1580.0 1753.3h13.3v6.7h-13.3zM1846.7 1756.7h6.7v3.3h-6.7zM1446.7 1756.7h10.0v3.3h-10.0zM1820.0 1756.7h20.0v3.3h-20.0zM1716.7 1756.7h26.7v3.3h-26.7zM1486.7 1753.3h20.0v10.0h-20.0zM1420.0 1756.7h13.3v6.7h-13.3zM1580.0 1760.0h10.0v3.3h-10.0zM1763.3 1760.0h10.0v3.3h-10.0zM1826.7 1760.0h10.0v3.3h-10.0zM1713.3 1760.0h30.0v3.3h-30.0zM1613.3 1760.0h10.0v3.3h-10.0zM1446.7 1760.0h13.3v6.7h-13.3zM1843.3 1760.0h13.3v6.7h-13.3zM1423.3 1763.3h6.7v3.3h-6.7zM1470.0 1763.3h10.0v3.3h-10.0zM1583.3 1763.3h10.0v3.3h-10.0zM1490.0 1763.3h16.7v3.3h-16.7zM1596.7 1763.3h10.0v3.3h-10.0zM1760.0 1763.3h16.7v3.3h-16.7zM1710.0 1763.3h26.7v3.3h-26.7zM1183.3 1766.7h6.7v3.3h-6.7zM1700.0 1766.7h36.7v3.3h-36.7zM1753.3 1766.7h26.7v3.3h-26.7zM1450.0 1766.7h10.0v3.3h-10.0zM1846.7 1766.7h6.7v3.3h-6.7zM1490.0 1766.7h13.3v3.3h-13.3zM1686.7 1766.7h10.0v3.3h-10.0zM1646.7 1763.3h13.3v10.0h-13.3zM1596.7 1766.7h13.3v6.7h-13.3zM1750.0 1770.0h30.0v3.3h-30.0zM1686.7 1770.0h50.0v3.3h-50.0zM1493.3 1770.0h6.7v3.3h-6.7zM1616.7 1770.0h6.7v3.3h-6.7zM1466.7 1766.7h13.3v10.0h-13.3zM1580.0 1766.7h13.3v10.0h-13.3zM1180.0 1770.0h13.3v6.7h-13.3zM1410.0 1773.3h10.0v3.3h-10.0zM1770.0 1773.3h6.7v3.3h-6.7zM1646.7 1773.3h10.0v3.3h-10.0zM1686.7 1773.3h23.3v3.3h-23.3zM1600.0 1773.3h10.0v3.3h-10.0zM1713.3 1773.3h23.3v3.3h-23.3zM1563.3 1773.3h13.3v6.7h-13.3zM1613.3 1773.3h13.3v6.7h-13.3zM1750.0 1773.3h13.3v6.7h-13.3zM1183.3 1776.7h6.7v3.3h-6.7zM1683.3 1776.7h26.7v3.3h-26.7zM1410.0 1776.7h13.3v6.7h-13.3zM1553.3 1780.0h23.3v3.3h-23.3zM1616.7 1780.0h6.7v3.3h-6.7zM1680.0 1780.0h13.3v6.7h-13.3zM1553.3 1783.3h20.0v3.3h-20.0zM1413.3 1783.3h10.0v3.3h-10.0zM1716.7 1780.0h13.3v10.0h-13.3zM1553.3 1786.7h13.3v3.3h-13.3zM1680.0 1786.7h10.0v3.3h-10.0zM1393.3 1786.7h10.0v3.3h-10.0zM1663.3 1783.3h13.3v10.0h-13.3zM1716.7 1790.0h10.0v3.3h-10.0zM1553.3 1790.0h10.0v3.3h-10.0zM1390.0 1790.0h13.3v6.7h-13.3zM1580.0 1793.3h6.7v3.3h-6.7zM1663.3 1793.3h10.0v3.3h-10.0zM1390.0 1796.7h10.0v3.3h-10.0zM1723.3 1793.3h13.3v10.0h-13.3zM1576.7 1796.7h13.3v6.7h-13.3zM1580.0 1803.3h6.7v3.3h-6.7zM1503.3 1803.3h6.7v3.3h-6.7zM1723.3 1803.3h10.0v3.3h-10.0zM1143.3 1803.3h10.0v3.3h-10.0zM1500.0 1806.7h13.3v3.3h-13.3zM1750.0 1806.7h6.7v3.3h-6.7zM1140.0 1806.7h13.3v6.7h-13.3zM1643.3 1810.0h6.7v3.3h-6.7zM1496.7 1810.0h16.7v3.3h-16.7zM1746.7 1810.0h13.3v6.7h-13.3zM1140.0 1813.3h10.0v3.3h-10.0zM1496.7 1813.3h13.3v3.3h-13.3zM1640.0 1813.3h13.3v6.7h-13.3zM1750.0 1816.7h6.7v3.3h-6.7zM1500.0 1816.7h6.7v3.3h-6.7zM1643.3 1820.0h6.7v3.3h-6.7zM1406.7 1820.0h10.0v3.3h-10.0zM1403.3 1823.3h13.3v6.7h-13.3zM1403.3 1830.0h10.0v3.3h-10.0zM1386.7 1830.0h10.0v3.3h-10.0zM1386.7 1833.3h13.3v6.7h-13.3zM1420.0 1840.0h10.0v3.3h-10.0zM1390.0 1840.0h10.0v3.3h-10.0zM1280.0 1836.7h13.3v13.3h-13.3zM1420.0 1843.3h13.3v6.7h-13.3zM1363.3 1846.7h6.7v3.3h-6.7zM1423.3 1850.0h10.0v3.3h-10.0zM1360.0 1850.0h20.0v3.3h-20.0zM1360.0 1853.3h23.3v3.3h-23.3zM1110.0 1850.0h13.3v10.0h-13.3zM1363.3 1856.7h20.0v3.3h-20.0zM1110.0 1860.0h10.0v3.3h-10.0zM1373.3 1860.0h10.0v3.3h-10.0zM1030.0 1866.7h6.7v3.3h-6.7zM1306.7 1860.0h13.3v13.3h-13.3zM1290.0 1866.7h13.3v10.0h-13.3zM1026.7 1870.0h13.3v6.7h-13.3zM1273.3 1876.7h10.0v3.3h-10.0zM1290.0 1876.7h10.0v3.3h-10.0zM990.0 1876.7h10.0v3.3h-10.0zM1030.0 1876.7h6.7v3.3h-6.7zM1273.3 1880.0h13.3v6.7h-13.3zM986.7 1880.0h13.3v6.7h-13.3zM1276.7 1886.7h10.0v3.3h-10.0zM986.7 1886.7h20.0v3.3h-20.0zM993.3 1890.0h13.3v6.7h-13.3zM993.3 1896.7h10.0v3.3h-10.0zM996.7 1956.7h6.7v3.3h-6.7zM993.3 1960.0h13.3v6.7h-13.3zM996.7 1966.7h6.7v3.3h-6.7z"/>
<circle cx="563.7" cy="616.5" r="16.5" fill="#0000ff"/>
<circle cx="659.4" cy="361.9" r="16.5" fill="#1fc71f"/>
<circle cx="660.2" cy="415.2" r="16.5" fill="#ff0000"/>
<polyline fill="none" stroke="#000" stroke-width="6.5" stroke-linejoin="round" stroke-linecap="butt" points="563.7,616.5 659.4,361.9 660.2,415.2"/>
<circle cx="495.0" cy="1151.4" r="16.5" fill="#0000ff"/>
<circle cx="590.7" cy="474.3" r="16.5" fill="#1fc71f"/>
<circle cx="604.0" cy="646.9" r="16.5" fill="#ff0000"/>
<polyline fill="none" stroke="#000" stroke-width="6.5" stroke-linejoin="round" stroke-linecap="butt" points="495.0,1151.4 590.7,474.3 604.0,646.9"/>
<circle cx="412.7" cy="1808.5" r="16.5" fill="#0000ff"/>
<circle cx="458.4" cy="1086.9" r="16.5" fill="#1fc71f"/>
<circle cx="429.3" cy="1206.7" r="16.5" fill="#ff0000"/>
<polyline fill="none" stroke="#000" stroke-width="6.5" stroke-linejoin="round" stroke-linecap="butt" points="412.7,1808.5 434.0,1440.0 458.4,1086.9 429.3,1206.7"/>
<circle cx="1221.3" cy="119.4" r="16.5" fill="#0000ff"/>
<circle cx="1741.9" cy="506.7" r="16.5" fill="#1fc71f"/>
<circle cx="1890.4" cy="674.8" r="16.5" fill="#ff0000"/>
<polyline fill="none" stroke="#000" stroke-width="6.5" stroke-linejoin="round" stroke-linecap="butt" points="1221.3,119.4 1741.9,506.7 1890.4,674.8"/>
<circle cx="1317.0" cy="447.2" r="16.5" fill="#0000ff"/>
<circle cx="1533.3" cy="354.9" r="16.5" fill="#1fc71f"/>
<circle cx="1749.4" cy="639.4" r="16.5" fill="#ff0000"/>
<polyline fill="none" stroke="#000" stroke-width="6.5" stroke-linejoin="round" stroke-linecap="butt" points="1317.0,447.2 1533.3,354.9 1749.4,639.4"/>
<circle cx="1297.5" cy="718.5" r="16.5" fill="#0000ff"/>
<circle cx="1495.5" cy="589.5" r="16.5" fill="#1fc71f"/>
<circle cx="1567.6" cy="713.4" r="16.5" fill="#ff0000"/>
<polyline fill="none" stroke="#000" stroke-width="6.5" stroke-linejoin="round" stroke-linecap="butt" points="1297.5,718.5 1495.5,589.5 1567.6,713.4"/>
<circle cx="1706.6" cy="1807.2" r="16.5" fill="#0000ff"/>
<circle cx="2002.8" cy="1460.7" r="16.5" fill="#1fc71f"/>
<circle cx="2090.1" cy="1361.7" r="16.5" fill="#ff0000"/>
<polyline fill="none" stroke="#000" stroke-width="6.5" stroke-linejoin="round" stroke-linecap="butt" points="1706.6,1807.2 1851.5,1630.5 2002.8,1460.7 2090.1,1361.7"/>
<circle cx="1456.0" cy="1744.4" r="16.5" fill="#0000ff"/>
<circle cx="1918.3" cy="1599.2" r="16.5" fill="#1fc71f"/>
<circle cx="1974.9" cy="1456.1" r="16.5" fill="#ff0000"/>
<polyline fill="none" stroke="#000" stroke-width="6.5" stroke-linejoin="round" stroke-linecap="butt" points="1456.0,1744.4 1864.0,1615.2 1905.6,1603.0 1921.2,1594.4 1930.0,1576.0 1955.0,1506.0 1974.9,1456.1"/>
<circle cx="1090.3" cy="1757.3" r="16.5" fill="#0000ff"/>
<circle cx="1546.5" cy="1626.0" r="16.5" fill="#1fc71f"/>
<circle cx="1647.5" cy="1576.3" r="16.5" fill="#ff0000"/>
<polyline fill="none" stroke="#000" stroke-width="6.5" stroke-linejoin="round" stroke-linecap="butt" points="1090.3,1757.3 1546.5,1626.0 1647.5,1576.3"/>
<path fill="none" stroke="#000" stroke-width="3.4" stroke-linecap="butt" d="M270.0 49.9L270.0 71.5M270.0 1977.4L270.0 1955.8M294.1 49.9L294.1 71.5M294.1 1977.4L294.1 1955.8M318.2 49.9L318.2 71.5M318.2 1977.4L318.2 1955.8M342.3 49.9L342.3 71.5M342.3 1977.4L342.3 1955.8M366.4 49.9L366.4 91.4M366.4 1977.4L366.4 1935.9M390.5 49.9L390.5 71.5M390.5 1977.4L390.5 1955.8M414.6 49.9L414.6 71.5M414.6 1977.4L414.6 1955.8M438.7 49.9L438.7 71.5M438.7 1977.4L438.7 1955.8M462.8 49.9L462.8 71.5M462.8 1977.4L462.8 1955.8M487.0 49.9L487.0 91.4M487.0 1977.4L487.0 1935.9M511.1 49.9L511.1 71.5M511.1 1977.4L511.1 1955.8M535.2 49.9L535.2 71.5M535.2 1977.4L535.2 1955.8M559.3 49.9L559.3 71.5M559.3 1977.4L559.3 1955.8M583.4 49.9L583.4 71.5M583.4 1977.4L583.4 1955.8M607.5 49.9L607.5 91.4M607.5 1977.4L607.5 1935.9M631.6 49.9L631.6 71.5M631.6 1977.4L631.6 1955.8M655.7 49.9L655.7 71.5M655.7 1977.4L655.7 1955.8M679.8 49.9L679.8 71.5M679.8 1977.4L679.8 1955.8M703.9 49.9L703.9 71.5M703.9 1977.4L703.9 1955.8M245.9 1900.3L267.2 1900.3M728.0 1900.3L706.4 1900.3M245.9 1823.2L267.2 1823.2M728.0 1823.2L706.4 1823.2M245.9 1746.1L267.2 1746.1M728.0 1746.1L706.4 1746.1M245.9 1669.0L267.2 1669.0M728.0 1669.0L706.4 1669.0M245.9 1591.9L283.8 1591.9M728.0 1591.9L689.7 1591.9M245.9 1514.8L267.2 1514.8M728.0 1514.8L706.4 1514.8M245.9 1437.7L267.2 1437.7M728.0 1437.7L706.4 1437.7M245.9 1360.6L267.2 1360.6M728.0 1360.6L706.4 1360.6M245.9 1283.5L267.2 1283.5M728.0 1283.5L706.4 1283.5M245.9 1206.4L283.8 1206.4M728.0 1206.4L689.7 1206.4M245.9 1129.3L267.2 1129.3M728.0 1129.3L706.4 1129.3M245.9 1052.2L267.2 1052.2M728.0 1052.2L706.4 1052.2M245.9 975.1L267.2 975.1M728.0 975.1L706.4 975.1M245.9 898.0L267.2 898.0M728.0 898.0L706.4 898.0M245.9 820.9L283.8 820.9M728.0 820.9L689.7 820.9M245.9 743.8L267.2 743.8M728.0 743.8L706.4 743.8M245.9 666.7L267.2 666.7M728.0 666.7L706.4 666.7M245.9 589.6L267.2 589.6M728.0 589.6L706.4 589.6M245.9 512.5L267.2 512.5M728.0 512.5L706.4 512.5M245.9 435.4L283.8 435.4M728.0 435.4L689.7 435.4M245.9 358.3L267.2 358.3M728.0 358.3L706.4 358.3M245.9 281.2L267.2 281.2M728.0 281.2L706.4 281.2M245.9 204.1L267.2 204.1M728.0 204.1L706.4 204.1M245.9 127.0L267.2 127.0M728.0 127.0L706.4 127.0M1004.7 49.5L1004.7 71.1M1004.7 851.0L1004.7 829.4M1075.6 49.5L1075.6 71.1M1075.6 851.0L1075.6 829.4M1146.5 49.5L1146.5 71.1M1146.5 851.0L1146.5 829.4M1217.4 49.5L1217.4 71.1M1217.4 851.0L1217.4 829.4M1288.3 49.5L1288.3 91.0M1288.3 851.0L1288.3 809.5M1359.2 49.5L1359.2 71.1M1359.2 851.0L1359.2 829.4M1430.1 49.5L1430.1 71.1M1430.1 851.0L1430.1 829.4M1501.0 49.5L1501.0 71.1M1501.0 851.0L1501.0 829.4M1571.9 49.5L1571.9 71.1M1571.9 851.0L1571.9 829.4M1642.8 49.5L1642.8 91.0M1642.8 851.0L1642.8 809.5M1713.7 49.5L1713.7 71.1M1713.7 851.0L1713.7 829.4M1784.6 49.5L1784.6 71.1M1784.6 851.0L1784.6 829.4M1855.5 49.5L1855.5 71.1M1855.5 851.0L1855.5 829.4M1926.4 49.5L1926.4 71.1M1926.4 851.0L1926.4 829.4M1997.3 49.5L1997.3 91.0M1997.3 851.0L1997.3 809.5M2068.2 49.5L2068.2 71.1M2068.2 851.0L2068.2 829.4M2139.1 49.5L2139.1 71.1M2139.1 851.0L2139.1 829.4M969.2 816.9L1007.1 816.9M2174.6 816.9L2133.6 816.9M969.2 782.8L987.5 782.8M2174.6 782.8L2153.1 782.8M969.2 748.7L987.5 748.7M2174.6 748.7L2153.1 748.7M969.2 714.6L987.5 714.6M2174.6 714.6L2153.1 714.6M969.2 680.5L987.5 680.5M2174.6 680.5L2153.1 680.5M969.2 646.4L1007.1 646.4M2174.6 646.4L2133.6 646.4M969.2 612.3L987.5 612.3M2174.6 612.3L2153.1 612.3M969.2 578.1L987.5 578.1M2174.6 578.1L2153.1 578.1M969.2 544.0L987.5 544.0M2174.6 544.0L2153.1 544.0M969.2 509.9L987.5 509.9M2174.6 509.9L2153.1 509.9M969.2 475.8L1007.1 475.8M2174.6 475.8L2133.6 475.8M969.2 441.7L987.5 441.7M2174.6 441.7L2153.1 441.7M969.2 407.6L987.5 407.6M2174.6 407.6L2153.1 407.6M969.2 373.5L987.5 373.5M2174.6 373.5L2153.1 373.5M969.2 339.4L987.5 339.4M2174.6 339.4L2153.1 339.4M969.2 305.3L1007.1 305.3M2174.6 305.3L2133.6 305.3M969.2 271.2L987.5 271.2M2174.6 271.2L2153.1 271.2M969.2 237.1L987.5 237.1M2174.6 237.1L2153.1 237.1M969.2 203.0L987.5 203.0M2174.6 203.0L2153.1 203.0M969.2 168.9L987.5 168.9M2174.6 168.9L2153.1 168.9M969.2 134.8L1007.1 134.8M2174.6 134.8L2133.6 134.8M969.2 100.7L987.5 100.7M2174.6 100.7L2153.1 100.7M969.2 66.6L987.5 66.6M2174.6 66.6L2153.1 66.6M1064.9 1175.3L1064.9 1196.9M1064.9 1977.4L1064.9 1955.8M1160.5 1175.3L1160.5 1196.9M1160.5 1977.4L1160.5 1955.8M1256.2 1175.3L1256.2 1216.8M1256.2 1977.4L1256.2 1935.9M1351.9 1175.3L1351.9 1196.9M1351.9 1977.4L1351.9 1955.8M1447.5 1175.3L1447.5 1196.9M1447.5 1977.4L1447.5 1955.8M1543.2 1175.3L1543.2 1196.9M1543.2 1977.4L1543.2 1955.8M1638.9 1175.3L1638.9 1216.8M1638.9 1977.4L1638.9 1935.9M1734.5 1175.3L1734.5 1196.9M1734.5 1977.4L1734.5 1955.8M1830.2 1175.3L1830.2 1196.9M1830.2 1977.4L1830.2 1955.8M1925.9 1175.3L1925.9 1196.9M1925.9 1977.4L1925.9 1955.8M2021.5 1175.3L2021.5 1216.8M2021.5 1977.4L2021.5 1935.9M2117.2 1175.3L2117.2 1196.9M2117.2 1977.4L2117.2 1955.8M969.2 1951.9L987.5 1951.9M2174.6 1951.9L2153.1 1951.9M969.2 1904.6L987.5 1904.6M2174.6 1904.6L2153.1 1904.6M969.2 1857.3L987.5 1857.3M2174.6 1857.3L2153.1 1857.3M969.2 1810.1L987.5 1810.1M2174.6 1810.1L2153.1 1810.1M969.2 1762.8L1007.1 1762.8M2174.6 1762.8L2133.6 1762.8M969.2 1715.5L987.5 1715.5M2174.6 1715.5L2153.1 1715.5M969.2 1668.3L987.5 1668.3M2174.6 1668.3L2153.1 1668.3M969.2 1621.0L987.5 1621.0M2174.6 1621.0L2153.1 1621.0M969.2 1573.8L987.5 1573.8M2174.6 1573.8L2153.1 1573.8M969.2 1526.5L1007.1 1526.5M2174.6 1526.5L2133.6 1526.5M969.2 1479.2L987.5 1479.2M2174.6 1479.2L2153.1 1479.2M969.2 1432.0L987.5 1432.0M2174.6 1432.0L2153.1 1432.0M969.2 1384.7L987.5 1384.7M2174.6 1384.7L2153.1 1384.7M969.2 1337.4L987.5 1337.4M2174.6 1337.4L2153.1 1337.4M969.2 1290.2L1007.1 1290.2M2174.6 1290.2L2133.6 1290.2M969.2 1242.9L987.5 1242.9M2174.6 1242.9L2153.1 1242.9M969.2 1195.6L987.5 1195.6M2174.6 1195.6L2153.1 1195.6"/>
<rect x="245.9" y="49.9" width="482.1" height="1927.5" fill="none" stroke="#000" stroke-width="3.4"/>
<rect x="969.2" y="49.5" width="1205.4" height="801.5" fill="none" stroke="#000" stroke-width="3.4"/>
<rect x="969.2" y="1175.3" width="1205.4" height="802.1" fill="none" stroke="#000" stroke-width="3.4"/>
<text transform="translate(177.1 2006.9) scale(1.020 1)" style="font-family:'Liberation Sans',sans-serif;font-size:60.0px">8</text>
<text transform="translate(177.3 1621.4) scale(1.020 1)" style="font-family:'Liberation Sans',sans-serif;font-size:60.0px">9</text>
<text transform="translate(142.8 1235.9) scale(1.020 1)" style="font-family:'Liberation Sans',sans-serif;font-size:60.0px">10</text>
<text transform="translate(143.4 850.4) scale(1.020 1)" style="font-family:'Liberation Sans',sans-serif;font-size:60.0px">11</text>
<text transform="translate(143.6 464.9) scale(1.020 1)" style="font-family:'Liberation Sans',sans-serif;font-size:60.0px">12</text>
<text transform="translate(143.1 79.4) scale(1.020 1)" style="font-family:'Liberation Sans',sans-serif;font-size:60.0px">13</text>
<text transform="translate(901.8 847.4) scale(1.020 1)" style="font-family:'Liberation Sans',sans-serif;font-size:60.0px">0</text>
<text transform="translate(902.4 676.9) scale(1.020 1)" style="font-family:'Liberation Sans',sans-serif;font-size:60.0px">1</text>
<text transform="translate(902.6 506.3) scale(1.020 1)" style="font-family:'Liberation Sans',sans-serif;font-size:60.0px">2</text>
<text transform="translate(902.1 335.8) scale(1.020 1)" style="font-family:'Liberation Sans',sans-serif;font-size:60.0px">3</text>
<text transform="translate(901.2 165.3) scale(1.020 1)" style="font-family:'Liberation Sans',sans-serif;font-size:60.0px">4</text>
<text transform="translate(902.1 1792.8) scale(1.020 1)" style="font-family:'Liberation Sans',sans-serif;font-size:60.0px">3</text>
<text transform="translate(901.2 1556.5) scale(1.020 1)" style="font-family:'Liberation Sans',sans-serif;font-size:60.0px">4</text>
<text transform="translate(902.0 1320.2) scale(1.020 1)" style="font-family:'Liberation Sans',sans-serif;font-size:60.0px">5</text>
<text transform="translate(224.8 2068.5) scale(1.020 1)" style="font-family:'Liberation Sans',sans-serif;font-size:60.0px">1</text>
<text transform="translate(318.1 2068.5) scale(1.020 1)" style="font-family:'Liberation Sans',sans-serif;font-size:60.0px">1.5</text>
<text transform="translate(469.7 2068.5) scale(1.020 1)" style="font-family:'Liberation Sans',sans-serif;font-size:60.0px">2</text>
<text transform="translate(556.2 2068.5) scale(1.020 1)" style="font-family:'Liberation Sans',sans-serif;font-size:60.0px">2.5</text>
<text transform="translate(709.5 2068.5) scale(1.020 1)" style="font-family:'Liberation Sans',sans-serif;font-size:60.0px">3</text>
<text transform="translate(1271.4 945.5) scale(1.020 1)" style="font-family:'Liberation Sans',sans-serif;font-size:60.0px">3</text>
<text transform="translate(1626.0 945.5) scale(1.020 1)" style="font-family:'Liberation Sans',sans-serif;font-size:60.0px">4</text>
<text transform="translate(1980.4 945.5) scale(1.020 1)" style="font-family:'Liberation Sans',sans-serif;font-size:60.0px">5</text>
<text transform="translate(1239.2 2068.5) scale(1.020 1)" style="font-family:'Liberation Sans',sans-serif;font-size:60.0px">8</text>
<text transform="translate(1603.7 2068.5) scale(1.020 1)" style="font-family:'Liberation Sans',sans-serif;font-size:60.0px">10</text>
<text transform="translate(1986.8 2068.5) scale(1.020 1)" style="font-family:'Liberation Sans',sans-serif;font-size:60.0px">12</text>
<text transform="translate(514.9 615.0) scale(1.020 1)" style="font-family:'Liberation Sans',sans-serif;font-size:60.0px">C</text>
<text transform="translate(542.0 1150.0) scale(1.020 1)" style="font-family:'Liberation Sans',sans-serif;font-size:60.0px">B</text>
<text transform="translate(366.8 1806.4) scale(1.020 1)" style="font-family:'Liberation Sans',sans-serif;font-size:60.0px">A</text>
<text transform="translate(1152.5 120.6) scale(1.020 1)" style="font-family:'Liberation Sans',sans-serif;font-size:60.0px">C</text>
<text transform="translate(1246.0 447.2) scale(1.020 1)" style="font-family:'Liberation Sans',sans-serif;font-size:60.0px">B</text>
<text transform="translate(1228.2 717.6) scale(1.020 1)" style="font-family:'Liberation Sans',sans-serif;font-size:60.0px">A</text>
<text transform="translate(1052.8 1757.5) scale(1.020 1)" style="font-family:'Liberation Sans',sans-serif;font-size:60.0px">A</text>
<text transform="translate(1417.0 1744.0) scale(1.020 1)" style="font-family:'Liberation Sans',sans-serif;font-size:60.0px">B</text>
<text transform="translate(1667.7 1806.4) scale(1.020 1)" style="font-family:'Liberation Sans',sans-serif;font-size:60.0px">C</text>
<text transform="translate(0 2161.0) scale(1.180 1)" x="215.3 235.5 268.4 304.0 329.0 366.4 392.6 433.2 495.9 531.2 560.0 583.4" y="0"><tspan dy="0.0" style="font-family:'Liberation Serif',serif;stroke:#000;stroke-width:1.5px;stroke-linejoin:round;font-size:69.0px">log</tspan><tspan dy="0.0" style="font-family:'Liberation Serif',serif;stroke:#000;stroke-width:1.5px;stroke-linejoin:round;font-size:76.0px">(</tspan><tspan dy="0.0" style="font-family:'Liberation Serif',serif;font-style:italic;stroke:#000;stroke-width:1.5px;stroke-linejoin:round;font-size:69.0px">σ</tspan><tspan dy="4.0" style="font-family:'Liberation Serif',serif;font-size:82.0px">[</tspan><tspan dy="-4.0" style="font-family:'Liberation Serif',serif;stroke:#000;stroke-width:1.5px;stroke-linejoin:round;font-size:69.0px">km</tspan><tspan dy="16.0" style="font-family:'Liberation Serif',serif;stroke:#000;stroke-width:1.5px;stroke-linejoin:round;font-size:105.0px">/</tspan><tspan dy="-16.0" style="font-family:'Liberation Serif',serif;stroke:#000;stroke-width:1.5px;stroke-linejoin:round;font-size:69.0px">s</tspan><tspan dy="4.0" style="font-family:'Liberation Serif',serif;font-size:82.0px">]</tspan><tspan dy="-4.0" style="font-family:'Liberation Serif',serif;stroke:#000;stroke-width:1.5px;stroke-linejoin:round;font-size:76.0px">)</tspan></text>
<text transform="translate(0 1037.2) scale(1.180 1)" x="1169.7 1190.1 1222.9 1260.2 1281.1 1321.4 1343.2 1371.5 1408.8 1441.4 1466.8" y="0"><tspan dy="0.0" style="font-family:'Liberation Serif',serif;stroke:#000;stroke-width:1.5px;stroke-linejoin:round;font-size:69.0px">log</tspan><tspan dy="0.0" style="font-family:'Liberation Serif',serif;stroke:#000;stroke-width:1.5px;stroke-linejoin:round;font-size:76.0px">(</tspan><tspan dy="0.0" style="font-family:'Liberation Serif',serif;stroke:#000;stroke-width:1.5px;stroke-linejoin:round;font-size:69.0px">R</tspan><tspan dy="24.0" style="font-family:'Liberation Serif',serif;stroke:#000;stroke-width:1.5px;stroke-linejoin:round;font-size:53.8px">e</tspan><tspan dy="-20.0" style="font-family:'Liberation Serif',serif;font-size:82.0px">[</tspan><tspan dy="-4.0" style="font-family:'Liberation Serif',serif;stroke:#000;stroke-width:1.5px;stroke-linejoin:round;font-size:69.0px">pc</tspan><tspan dy="4.0" style="font-family:'Liberation Serif',serif;font-size:82.0px">]</tspan><tspan dy="-4.0" style="font-family:'Liberation Serif',serif;stroke:#000;stroke-width:1.5px;stroke-linejoin:round;font-size:76.0px">)</tspan></text>
<text transform="translate(0 2160.4) scale(1.180 1)" x="1167.0 1187.3 1222.5 1257.4 1282.5 1324.3 1343.1 1371.8 1410.6 1444.4 1468.1" y="0"><tspan dy="0.0" style="font-family:'Liberation Serif',serif;stroke:#000;stroke-width:1.5px;stroke-linejoin:round;font-size:69.0px">log</tspan><tspan dy="0.0" style="font-family:'Liberation Serif',serif;stroke:#000;stroke-width:1.5px;stroke-linejoin:round;font-size:76.0px">(</tspan><tspan dy="0.0" style="font-family:'Liberation Mono',monospace;font-weight:bold;font-size:72.0px">M</tspan><tspan dy="-16.0" style="font-family:'Liberation Serif',serif;stroke:#000;stroke-width:1.5px;stroke-linejoin:round;font-size:46.0px">*</tspan><tspan dy="20.0" style="font-family:'Liberation Serif',serif;font-size:82.0px">[</tspan><tspan dy="-4.0" style="font-family:'Liberation Mono',monospace;font-weight:bold;font-size:72.0px">M</tspan><tspan dy="21.5" style="font-family:'DejaVu Sans',sans-serif;font-weight:bold;font-size:46.0px">⊙</tspan><tspan dy="-17.5" style="font-family:'Liberation Serif',serif;font-size:82.0px">]</tspan><tspan dy="-4.0" style="font-family:'Liberation Serif',serif;stroke:#000;stroke-width:1.5px;stroke-linejoin:round;font-size:76.0px">)</tspan></text>
<text transform="translate(88.5 0) rotate(-90) scale(1.180 1)" x="-1011.8 -991.6 -957.9 -920.4 -902.9 -873.3 -844.6 -824.5 -790.0 -756.2 -731.6" y="0"><tspan dy="0.0" style="font-family:'Liberation Serif',serif;stroke:#000;stroke-width:1.5px;stroke-linejoin:round;font-size:69.0px">log</tspan><tspan dy="0.0" style="font-family:'Liberation Serif',serif;stroke:#000;stroke-width:1.5px;stroke-linejoin:round;font-size:76.0px">(</tspan><tspan dy="0.0" style="font-family:'Liberation Mono',monospace;font-size:69.0px">L</tspan><tspan dy="20.0" style="font-family:'Liberation Serif',serif;stroke:#000;stroke-width:1.5px;stroke-linejoin:round;font-size:44.0px">V</tspan><tspan dy="-16.0" style="font-family:'Liberation Serif',serif;font-size:82.0px">[</tspan><tspan dy="-4.0" style="font-family:'Liberation Mono',monospace;font-size:69.0px">L</tspan><tspan dy="18.0" style="font-family:'DejaVu Sans',sans-serif;font-weight:bold;font-size:46.0px">⊙</tspan><tspan dy="-14.0" style="font-family:'Liberation Serif',serif;font-size:82.0px">]</tspan><tspan dy="-4.0" style="font-family:'Liberation Serif',serif;stroke:#000;stroke-width:1.5px;stroke-linejoin:round;font-size:76.0px">)</tspan></text>
<text transform="translate(844.9 0) rotate(-90) scale(1.180 1)" x="-635.7 -618.6 -583.1 -548.8 -521.8 -481.7 -457.3 -418.9 -398.7 -375.0 -345.2 -305.7 -268.0 -232.2 -200.9 -177.3 -153.4" y="0"><tspan dy="0.0" style="font-family:'Liberation Serif',serif;stroke:#000;stroke-width:1.5px;stroke-linejoin:round;font-size:69.0px">log</tspan><tspan dy="0.0" style="font-family:'Liberation Serif',serif;stroke:#000;stroke-width:1.5px;stroke-linejoin:round;font-size:76.0px">(</tspan><tspan dy="0.0" style="font-family:'Liberation Serif',serif;font-size:69.0px">&lt;I&gt;</tspan><tspan dy="24.0" style="font-family:'Liberation Serif',serif;stroke:#000;stroke-width:1.5px;stroke-linejoin:round;font-size:53.8px">e</tspan><tspan dy="-20.0" style="font-family:'Liberation Serif',serif;font-size:82.0px">[</tspan><tspan dy="-4.0" style="font-family:'Liberation Mono',monospace;font-size:69.0px">L</tspan><tspan dy="18.0" style="font-family:'DejaVu Sans',sans-serif;font-weight:bold;font-size:46.0px">⊙</tspan><tspan dy="-2.0" style="font-family:'Liberation Serif',serif;stroke:#000;stroke-width:1.5px;stroke-linejoin:round;font-size:105.0px">/</tspan><tspan dy="-16.0" style="font-family:'Liberation Serif',serif;stroke:#000;stroke-width:1.5px;stroke-linejoin:round;font-size:69.0px">pc</tspan><tspan dy="-19.0" style="font-family:'Liberation Serif',serif;stroke:#000;stroke-width:1.5px;stroke-linejoin:round;font-size:51.0px">2</tspan><tspan dy="23.0" style="font-family:'Liberation Serif',serif;font-size:82.0px">]</tspan><tspan dy="-4.0" style="font-family:'Liberation Serif',serif;stroke:#000;stroke-width:1.5px;stroke-linejoin:round;font-size:76.0px">)</tspan></text>
<text transform="translate(844.6 0) rotate(-90) scale(1.180 1)" x="-1495.3 -1476.3 -1442.3 -1406.6 -1384.5 -1343.8 -1323.5 -1293.5 -1256.5 -1223.7 -1199.9" y="0"><tspan dy="0.0" style="font-family:'Liberation Serif',serif;stroke:#000;stroke-width:1.5px;stroke-linejoin:round;font-size:69.0px">log</tspan><tspan dy="0.0" style="font-family:'Liberation Serif',serif;stroke:#000;stroke-width:1.5px;stroke-linejoin:round;font-size:76.0px">(</tspan><tspan dy="0.0" style="font-family:'Liberation Serif',serif;stroke:#000;stroke-width:1.5px;stroke-linejoin:round;font-size:69.0px">R</tspan><tspan dy="24.0" style="font-family:'Liberation Serif',serif;stroke:#000;stroke-width:1.5px;stroke-linejoin:round;font-size:53.8px">e</tspan><tspan dy="-20.0" style="font-family:'Liberation Serif',serif;font-size:82.0px">[</tspan><tspan dy="-4.0" style="font-family:'Liberation Serif',serif;stroke:#000;stroke-width:1.5px;stroke-linejoin:round;font-size:69.0px">pc</tspan><tspan dy="4.0" style="font-family:'Liberation Serif',serif;font-size:82.0px">]</tspan><tspan dy="-4.0" style="font-family:'Liberation Serif',serif;stroke:#000;stroke-width:1.5px;stroke-linejoin:round;font-size:76.0px">)</tspan></text>
</svg>
</body>
</html>
